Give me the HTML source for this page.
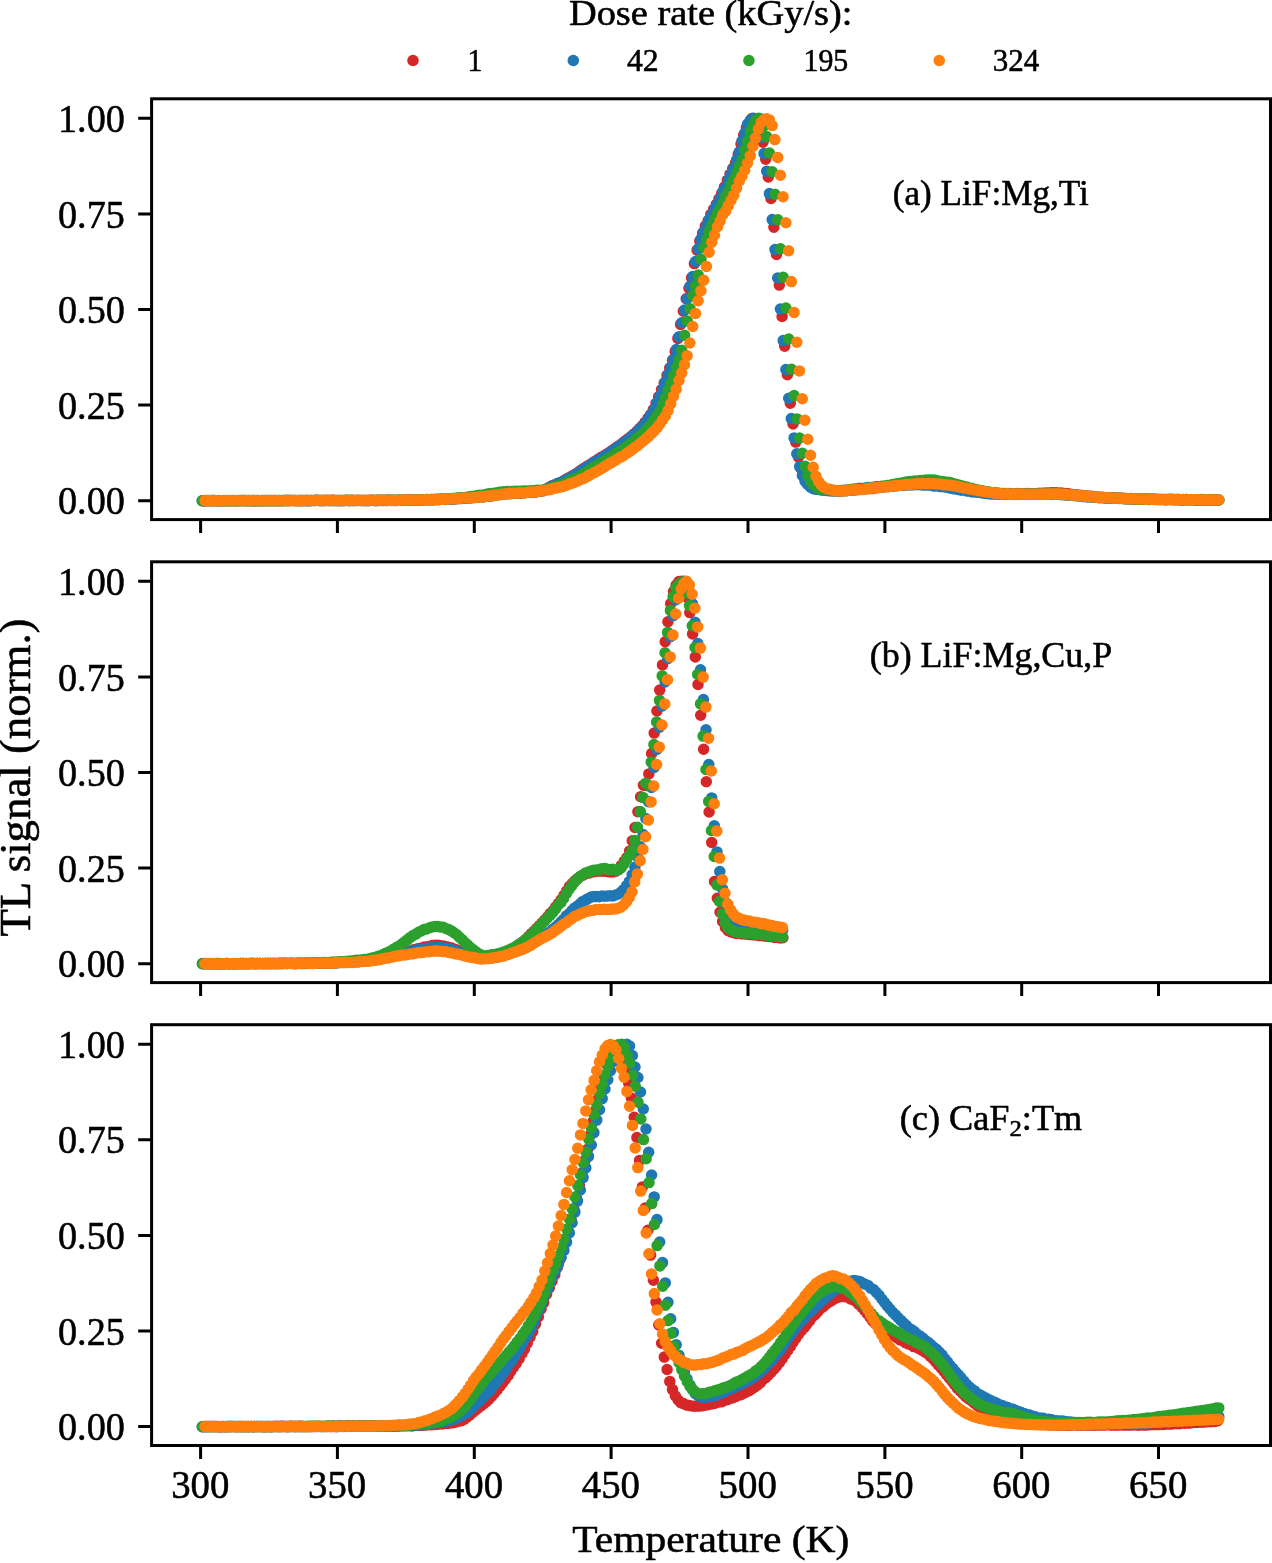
<!DOCTYPE html>
<html lang="en">
<head>
<meta charset="utf-8">
<title>TL glow curves vs dose rate</title>
<style>
html,body{margin:0;padding:0;background:#fff;}
body{width:1272px;height:1563px;overflow:hidden;font-family:"Liberation Serif",serif;}
svg{display:block;}
</style>
</head>
<body>
<svg width="1272" height="1563" viewBox="0 0 1272 1563" role="img" aria-label="Normalised TL glow curves for three dosimeter materials at four dose rates">
<rect width="1272" height="1563" fill="#fff"/>
<g fill="none" stroke-width="11.50" stroke-linecap="round">
<path stroke="#d62728" d="M203.9 500.9h0M206.7 500.7h0M209.4 500.8h0M212.1 500.6h0M214.8 500.4h0M217.6 500.7h0M220.4 500.8h0M223.2 500.8h0M225.8 500.7h0M228.5 500.7h0M231.3 500.8h0M234.1 500.6h0M236.8 500.8h0M239.5 500.5h0M242.3 500.5h0M245.0 500.5h0M247.7 500.7h0M250.5 500.6h0M253.1 500.6h0M255.9 500.7h0M258.6 500.6h0M261.4 500.8h0M264.1 500.8h0M266.9 500.5h0M269.7 500.6h0M272.4 500.6h0M275.0 500.5h0M277.9 500.8h0M280.6 500.7h0M283.4 500.5h0M286.0 500.5h0M288.8 500.6h0M291.5 500.4h0M294.3 500.5h0M297.1 500.7h0M299.8 500.6h0M302.5 500.4h0M305.3 500.5h0M308.0 500.7h0M310.8 500.4h0M313.5 500.4h0M316.3 500.3h0M318.9 500.5h0M321.7 500.5h0M324.5 500.6h0M327.1 500.2h0M330.0 500.5h0M332.7 500.3h0M335.4 500.5h0M338.3 500.4h0M341.0 500.6h0M343.6 500.5h0M346.4 500.3h0M349.2 500.6h0M351.9 500.3h0M354.6 500.4h0M357.3 500.5h0M360.1 500.5h0M362.9 500.5h0M365.5 500.4h0M368.3 500.5h0M371.0 500.5h0M373.8 500.4h0M376.5 500.5h0M379.2 500.5h0M382.0 500.4h0M384.8 500.2h0M387.6 500.5h0M390.2 500.3h0M392.9 500.4h0M395.7 500.4h0M398.3 500.2h0M401.2 500.3h0M403.9 500.0h0M406.7 500.2h0M409.4 500.1h0M412.1 500.1h0M414.9 500.1h0M417.6 499.9h0M420.5 499.9h0M423.1 499.7h0M425.8 499.8h0M428.6 499.8h0M431.3 499.6h0M434.1 499.5h0M436.7 499.3h0M439.5 499.5h0M442.3 499.3h0M445.1 499.4h0M447.8 499.0h0M450.5 499.0h0M453.3 499.0h0M456.0 498.7h0M458.8 498.4h0M461.5 498.5h0M464.2 498.3h0M466.9 498.1h0M469.7 497.9h0M472.3 497.5h0M475.1 497.5h0M477.9 497.2h0M480.6 496.8h0M483.4 496.7h0M486.3 496.2h0M488.8 496.1h0M491.6 495.8h0M494.4 495.5h0M497.1 494.6h0M499.8 494.5h0M502.6 494.0h0M505.3 493.8h0M508.1 493.6h0M510.7 493.4h0M513.5 493.0h0M516.3 493.2h0M518.9 493.2h0M521.8 492.9h0M524.4 492.8h0M527.3 492.3h0M530.0 492.1h0M532.7 492.1h0M535.4 491.9h0M538.2 491.5h0M540.8 490.9h0M543.6 490.8h0M546.4 488.9h0M549.0 487.5h0M551.9 485.8h0M554.5 484.9h0M557.4 483.6h0M560.1 482.6h0M562.9 481.2h0M565.6 479.5h0M568.2 478.1h0M571.1 476.6h0M573.9 474.9h0M576.5 473.4h0M579.3 471.3h0M582.0 469.5h0M584.7 467.7h0M587.6 465.9h0M590.2 464.4h0M593.0 462.6h0M595.7 460.9h0M598.4 459.0h0M601.1 457.2h0M604.0 455.8h0M606.7 454.1h0M609.5 452.2h0M612.2 450.4h0M614.9 448.5h0M617.6 446.5h0M620.4 444.8h0M623.1 442.5h0M625.8 440.6h0M628.6 438.4h0M631.3 436.2h0M634.0 433.9h0M636.9 431.3h0M639.5 428.5h0M642.2 425.7h0M645.1 422.1h0M647.9 418.4h0M650.4 414.8h0M653.3 409.5h0M656.0 403.4h0M658.6 396.7h0M661.5 389.5h0M664.2 383.1h0M667.0 375.2h0M669.7 368.0h0M672.5 360.2h0M675.2 351.4h0M677.9 338.4h0M680.6 324.4h0M683.3 311.2h0M686.2 298.7h0M688.9 288.2h0M691.6 277.9h0M694.4 263.6h0M697.1 250.2h0M699.8 241.0h0M702.6 233.2h0M705.3 226.0h0M708.1 220.9h0M710.8 214.4h0M713.6 209.3h0M716.3 204.2h0M719.0 198.7h0M721.7 193.4h0M724.4 187.1h0M727.3 180.1h0M730.0 174.1h0M732.7 168.5h0M735.5 163.1h0M738.2 154.3h0M741.0 144.1h0M743.7 135.1h0M746.4 127.6h0M749.2 123.1h0M751.8 118.6h0M754.7 118.5h0M757.4 122.5h0M760.2 127.5h0M763.0 142.2h0M765.7 159.2h0M768.3 176.9h0M771.0 198.4h0M773.9 227.2h0M776.5 254.5h0M779.3 285.1h0M782.1 316.4h0M784.7 346.2h0M787.4 374.8h0M790.3 403.2h0M793.0 424.0h0M795.7 442.1h0M798.5 457.2h0M801.2 468.6h0M803.9 476.6h0M806.7 482.4h0M809.4 485.4h0M812.1 487.4h0M814.9 488.8h0M817.7 489.1h0M820.4 489.6h0M823.1 490.0h0M825.8 490.2h0M828.6 490.5h0M831.3 490.8h0M834.1 490.6h0M836.8 490.7h0M839.6 490.7h0M842.3 490.9h0M845.2 490.6h0M847.7 490.5h0M850.6 490.3h0M853.3 490.3h0M856.0 489.8h0M858.7 489.4h0M861.5 489.2h0M864.3 489.1h0M867.0 488.8h0M869.7 488.4h0M872.4 488.6h0M875.3 487.9h0M877.9 487.6h0M880.6 487.3h0M883.4 486.9h0M886.1 486.7h0M888.7 486.5h0M891.6 486.2h0M894.5 485.8h0M897.1 485.7h0M899.8 485.3h0M902.5 484.9h0M905.4 484.5h0M908.1 484.6h0M910.8 484.4h0M913.6 484.2h0M916.3 483.8h0M919.1 483.9h0M921.8 483.5h0M924.5 483.7h0M927.2 483.5h0M930.0 483.5h0M932.7 483.4h0M935.5 483.6h0M938.2 484.1h0M941.0 484.3h0M943.7 484.5h0M946.4 484.9h0M949.3 485.4h0M952.0 485.5h0M954.6 486.0h0M957.4 486.5h0M960.2 487.2h0M962.7 487.5h0M965.6 488.2h0M968.4 488.6h0M971.1 489.4h0M973.8 489.9h0M976.6 490.3h0M979.3 490.9h0M982.1 491.2h0M984.8 491.7h0M987.5 492.2h0M990.4 492.4h0M993.0 492.8h0M995.7 493.0h0M998.4 493.5h0M1001.3 493.7h0M1004.0 493.6h0M1006.8 493.4h0M1009.5 493.5h0M1012.2 493.7h0M1015.0 493.7h0M1017.7 493.5h0M1020.4 493.7h0M1023.2 493.8h0M1026.0 493.6h0M1028.7 493.6h0M1031.4 493.7h0M1034.1 493.8h0M1036.8 493.6h0M1039.7 493.3h0M1042.4 493.3h0M1045.1 493.1h0M1047.8 492.9h0M1050.5 492.8h0M1053.3 492.8h0M1056.1 492.7h0M1058.8 493.0h0M1061.5 493.1h0M1064.2 493.5h0M1067.0 493.5h0M1069.7 494.0h0M1072.5 494.5h0M1075.2 494.7h0M1078.0 495.0h0M1080.7 495.2h0M1083.5 495.8h0M1086.3 496.1h0M1088.9 496.3h0M1091.6 496.3h0M1094.4 496.8h0M1097.1 497.1h0M1099.8 497.2h0M1102.6 497.2h0M1105.5 497.7h0M1108.1 497.8h0M1110.8 497.8h0M1113.5 498.0h0M1116.3 498.2h0M1119.0 498.4h0M1121.7 498.2h0M1124.6 498.4h0M1127.2 498.6h0M1130.1 498.7h0M1132.8 499.1h0M1135.5 498.8h0M1138.3 499.0h0M1141.1 499.0h0M1143.7 499.0h0M1146.4 499.2h0M1149.1 499.4h0M1151.9 499.2h0M1154.8 499.4h0M1157.5 499.4h0M1160.1 499.5h0M1162.8 499.5h0M1165.6 499.7h0M1168.4 499.4h0M1171.1 499.5h0M1173.9 499.4h0M1176.6 499.4h0M1179.3 499.6h0M1182.1 499.9h0M1184.8 499.8h0M1187.6 499.8h0M1190.3 499.8h0M1193.1 499.7h0M1195.8 500.0h0M1198.5 499.8h0M1201.2 500.0h0M1204.0 499.8h0M1206.6 499.9h0M1209.4 499.9h0M1212.3 499.9h0M1215.0 500.0h0M1217.7 500.0h0"/>
<path stroke="#1f77b4" d="M202.2 500.7h0M205.0 500.6h0M207.9 500.6h0M210.6 500.6h0M213.3 500.6h0M216.0 500.7h0M218.7 500.7h0M221.5 500.7h0M224.2 500.6h0M226.9 500.8h0M229.7 500.5h0M232.4 500.6h0M235.1 500.7h0M237.9 500.7h0M240.6 500.7h0M243.3 500.6h0M246.2 500.7h0M248.8 500.5h0M251.6 500.7h0M254.4 500.9h0M257.1 500.7h0M259.7 500.8h0M262.5 500.6h0M265.3 500.5h0M268.0 500.5h0M270.8 500.7h0M273.6 500.7h0M276.2 500.4h0M279.0 500.5h0M281.7 500.6h0M284.5 500.4h0M287.1 500.3h0M289.9 500.4h0M292.7 500.5h0M295.5 500.5h0M298.2 500.5h0M301.0 500.6h0M303.6 500.6h0M306.4 500.5h0M309.1 500.6h0M311.8 500.5h0M314.6 500.5h0M317.3 500.2h0M320.0 500.6h0M322.8 500.5h0M325.5 500.5h0M328.3 500.4h0M331.1 500.4h0M333.8 500.5h0M336.6 500.6h0M339.3 500.6h0M341.9 500.6h0M344.7 500.4h0M347.4 500.4h0M350.2 500.6h0M353.0 500.5h0M355.7 500.4h0M358.3 500.4h0M361.2 500.5h0M363.9 500.4h0M366.7 500.6h0M369.4 500.5h0M372.2 500.2h0M374.9 500.6h0M377.7 500.4h0M380.4 500.3h0M383.1 500.4h0M385.9 500.4h0M388.5 500.3h0M391.3 500.3h0M394.1 500.3h0M396.8 500.5h0M399.5 500.3h0M402.4 500.3h0M405.0 500.2h0M407.7 500.1h0M410.4 500.0h0M413.2 499.9h0M416.0 500.0h0M418.7 499.8h0M421.5 499.7h0M424.2 499.7h0M427.0 499.6h0M429.6 499.7h0M432.4 499.6h0M435.2 499.4h0M438.0 499.6h0M440.6 499.3h0M443.4 499.3h0M446.1 499.2h0M448.9 499.2h0M451.5 499.0h0M454.3 498.7h0M457.1 498.5h0M459.8 498.3h0M462.5 498.3h0M465.3 498.1h0M467.9 498.0h0M470.7 497.7h0M473.5 497.5h0M476.3 497.2h0M479.0 496.8h0M481.6 496.8h0M484.5 496.7h0M487.3 496.3h0M490.0 496.1h0M492.7 495.6h0M495.4 494.9h0M498.2 494.6h0M500.9 494.5h0M503.6 493.9h0M506.4 493.5h0M509.2 493.5h0M511.9 493.4h0M514.7 493.2h0M517.3 493.0h0M520.2 492.8h0M522.8 492.6h0M525.6 492.4h0M528.5 492.2h0M531.1 491.9h0M533.8 491.8h0M536.5 491.8h0M539.3 491.3h0M542.1 490.8h0M544.7 490.1h0M547.4 488.5h0M550.2 487.1h0M553.0 485.9h0M555.7 484.4h0M558.5 483.3h0M561.2 482.3h0M564.0 480.9h0M566.6 479.6h0M569.5 478.1h0M572.3 476.8h0M574.9 474.9h0M577.7 473.2h0M580.4 471.4h0M583.2 469.4h0M585.8 467.6h0M588.6 466.1h0M591.4 464.5h0M594.1 462.3h0M596.8 461.0h0M599.6 459.5h0M602.3 457.6h0M605.0 455.8h0M607.8 454.2h0M610.5 452.2h0M613.3 450.5h0M616.1 448.6h0M618.7 446.6h0M621.5 444.5h0M624.3 442.7h0M626.9 440.6h0M629.7 438.5h0M632.4 435.7h0M635.2 433.9h0M638.0 430.8h0M640.8 428.3h0M643.4 425.5h0M646.2 421.9h0M648.9 418.3h0M651.6 414.0h0M654.4 409.0h0M657.0 403.0h0M659.9 396.0h0M662.6 389.1h0M665.4 381.7h0M668.1 374.3h0M670.8 367.3h0M673.6 359.2h0M676.3 349.6h0M679.0 336.7h0M681.8 322.8h0M684.5 310.1h0M687.1 298.7h0M690.0 286.3h0M692.8 276.4h0M695.5 261.6h0M698.2 248.9h0M701.0 239.1h0M703.7 231.9h0M706.4 225.7h0M709.2 219.6h0M712.0 214.0h0M714.6 209.1h0M717.4 204.1h0M720.1 198.4h0M722.8 191.7h0M725.7 187.0h0M728.3 179.9h0M731.0 174.4h0M733.8 167.5h0M736.6 160.1h0M739.4 151.8h0M742.0 141.1h0M744.8 133.0h0M747.6 124.0h0M750.2 120.6h0M753.0 118.3h0M755.7 119.7h0M758.5 126.9h0M761.2 137.5h0M764.0 153.5h0M766.7 171.3h0M769.4 193.6h0M772.2 219.6h0M775.0 249.5h0M777.7 278.0h0M780.4 309.0h0M783.2 340.6h0M785.9 369.5h0M788.7 398.3h0M791.3 418.6h0M794.1 437.9h0M796.8 453.8h0M799.7 466.6h0M802.4 475.4h0M805.0 481.2h0M807.7 484.5h0M810.6 487.2h0M813.3 488.7h0M816.1 489.2h0M818.8 489.5h0M821.5 489.9h0M824.3 490.2h0M827.0 490.6h0M829.8 490.8h0M832.3 490.7h0M835.2 490.9h0M837.9 490.9h0M840.7 490.7h0M843.4 490.3h0M846.1 490.2h0M848.9 489.8h0M851.6 489.6h0M854.3 489.1h0M857.0 488.8h0M859.9 488.3h0M862.6 488.4h0M865.4 488.1h0M868.1 487.6h0M870.9 487.5h0M873.6 487.2h0M876.3 486.7h0M879.1 486.8h0M881.8 486.6h0M884.5 486.4h0M887.2 486.0h0M890.0 485.8h0M892.7 485.8h0M895.4 485.6h0M898.3 485.3h0M900.9 485.1h0M903.7 485.2h0M906.4 484.9h0M909.2 484.8h0M911.9 485.0h0M914.6 484.8h0M917.5 484.6h0M920.2 484.8h0M923.0 485.1h0M925.7 485.1h0M928.3 485.1h0M931.1 485.3h0M933.9 486.1h0M936.6 485.7h0M939.3 486.5h0M942.0 486.6h0M944.7 487.0h0M947.5 487.5h0M950.2 488.1h0M953.0 488.8h0M955.7 489.0h0M958.5 489.6h0M961.2 490.3h0M964.0 490.1h0M966.6 490.9h0M969.4 491.2h0M972.1 491.9h0M974.8 492.0h0M977.6 492.3h0M980.5 492.6h0M983.1 493.1h0M985.9 493.6h0M988.6 493.7h0M991.4 494.1h0M994.1 494.1h0M996.9 493.9h0M999.6 494.1h0M1002.4 494.1h0M1005.1 494.1h0M1007.8 493.9h0M1010.5 494.0h0M1013.3 494.2h0M1016.0 494.0h0M1018.8 494.3h0M1021.5 494.2h0M1024.4 494.0h0M1026.9 494.3h0M1029.7 494.1h0M1032.5 494.2h0M1035.2 493.9h0M1037.9 493.7h0M1040.7 494.0h0M1043.4 493.8h0M1046.2 493.9h0M1049.0 494.0h0M1051.7 494.1h0M1054.3 493.9h0M1057.1 494.0h0M1059.9 494.4h0M1062.7 494.8h0M1065.3 494.9h0M1068.1 495.2h0M1070.9 495.3h0M1073.6 495.6h0M1076.3 495.8h0M1079.0 496.0h0M1081.7 496.4h0M1084.5 496.6h0M1087.2 497.0h0M1090.1 497.0h0M1092.7 497.3h0M1095.5 497.3h0M1098.3 497.6h0M1101.0 497.6h0M1103.7 497.7h0M1106.5 498.1h0M1109.3 498.1h0M1111.9 498.2h0M1114.6 498.1h0M1117.4 498.1h0M1120.1 498.3h0M1123.0 498.6h0M1125.5 498.5h0M1128.3 498.9h0M1131.1 498.6h0M1133.8 498.9h0M1136.6 499.2h0M1139.3 498.7h0M1142.1 498.9h0M1144.9 499.2h0M1147.4 499.1h0M1150.3 499.2h0M1153.0 499.3h0M1155.8 499.5h0M1158.5 499.4h0M1161.2 499.4h0M1164.0 499.4h0M1166.8 499.4h0M1169.5 499.5h0M1172.2 499.3h0M1175.1 499.7h0M1177.8 499.6h0M1180.4 499.9h0M1183.2 499.8h0M1186.1 499.5h0M1188.7 499.8h0M1191.4 499.7h0M1194.1 499.8h0M1196.8 499.9h0M1199.6 499.9h0M1202.3 499.9h0M1205.1 499.9h0M1207.8 499.8h0M1210.5 499.8h0M1213.2 500.0h0M1216.1 500.0h0M1218.7 499.9h0"/>
<path stroke="#2ca02c" d="M202.3 500.7h0M205.1 500.7h0M208.0 500.6h0M210.6 500.7h0M213.3 500.5h0M216.0 500.7h0M218.7 500.6h0M221.5 500.7h0M224.2 500.7h0M227.0 500.4h0M229.7 500.7h0M232.5 500.8h0M235.2 500.7h0M238.0 500.7h0M240.6 500.4h0M243.5 500.6h0M246.2 500.5h0M249.0 500.7h0M251.7 500.6h0M254.5 500.5h0M257.1 500.4h0M259.9 500.7h0M262.8 500.5h0M265.3 500.6h0M268.2 500.7h0M270.9 500.6h0M273.6 500.6h0M276.4 500.8h0M279.1 500.5h0M281.8 500.5h0M284.6 500.6h0M287.2 500.7h0M290.0 500.4h0M292.7 500.5h0M295.5 500.4h0M298.3 500.4h0M301.0 500.6h0M303.7 500.4h0M306.6 500.5h0M309.3 500.5h0M312.0 500.5h0M314.7 500.5h0M317.4 500.4h0M320.2 500.5h0M322.9 500.5h0M325.6 500.5h0M328.4 500.4h0M331.3 500.6h0M333.8 500.5h0M336.7 500.5h0M339.4 500.5h0M342.1 500.5h0M344.9 500.5h0M347.5 500.2h0M350.3 500.3h0M353.1 500.4h0M355.8 500.4h0M358.5 500.2h0M361.3 500.4h0M364.0 500.4h0M366.8 500.4h0M369.4 500.4h0M372.3 500.2h0M374.9 500.4h0M377.7 500.1h0M380.4 500.5h0M383.0 500.3h0M385.9 500.5h0M388.6 500.1h0M391.4 500.4h0M394.2 500.3h0M396.8 500.2h0M399.6 500.1h0M402.4 500.4h0M405.1 500.2h0M407.9 500.3h0M410.6 500.1h0M413.3 500.0h0M416.1 500.0h0M418.9 500.0h0M421.6 499.9h0M424.3 499.8h0M427.0 499.6h0M429.8 499.4h0M432.5 499.7h0M435.4 499.4h0M438.0 499.4h0M440.7 499.1h0M443.4 499.2h0M446.2 498.9h0M449.0 498.8h0M451.7 498.4h0M454.4 498.3h0M457.2 498.1h0M459.8 497.8h0M462.6 497.7h0M465.4 497.5h0M468.1 496.9h0M470.9 496.6h0M473.7 496.3h0M476.4 495.7h0M479.1 495.3h0M481.9 495.2h0M484.6 494.7h0M487.3 494.0h0M490.1 493.6h0M492.8 493.4h0M495.5 493.0h0M498.3 492.4h0M501.0 492.0h0M503.6 491.8h0M506.5 491.5h0M509.2 491.6h0M511.9 491.5h0M514.6 491.2h0M517.4 491.3h0M520.2 491.2h0M522.9 491.0h0M525.6 490.9h0M528.4 491.0h0M531.1 490.8h0M533.9 490.8h0M536.7 490.3h0M539.3 490.3h0M542.1 490.3h0M544.9 489.8h0M547.6 489.1h0M550.3 488.3h0M553.1 487.3h0M555.9 486.4h0M558.4 485.8h0M561.2 484.7h0M564.0 483.8h0M566.7 482.5h0M569.5 481.3h0M572.2 479.6h0M575.0 478.6h0M577.7 477.5h0M580.5 475.7h0M583.2 473.9h0M585.9 472.5h0M588.7 470.7h0M591.5 468.9h0M594.2 467.1h0M596.9 465.6h0M599.6 464.0h0M602.3 462.2h0M605.1 460.7h0M607.9 459.0h0M610.6 457.6h0M613.3 455.7h0M616.1 453.6h0M618.8 452.2h0M621.6 450.0h0M624.2 448.0h0M627.0 446.2h0M629.8 444.1h0M632.6 442.2h0M635.2 439.7h0M638.0 437.4h0M640.7 435.2h0M643.5 433.0h0M646.3 430.0h0M649.0 426.7h0M651.8 423.1h0M654.5 419.9h0M657.3 415.4h0M659.9 411.1h0M662.7 404.5h0M665.3 397.7h0M668.1 390.3h0M670.9 383.4h0M673.6 375.1h0M676.2 367.6h0M679.2 359.7h0M681.8 350.2h0M684.6 335.2h0M687.3 321.0h0M690.1 308.8h0M692.8 295.8h0M695.5 286.0h0M698.2 275.1h0M701.0 259.2h0M703.8 247.7h0M706.5 239.3h0M709.2 231.4h0M711.9 225.3h0M714.7 219.1h0M717.5 213.1h0M720.1 208.8h0M723.0 203.3h0M725.7 196.6h0M728.4 191.2h0M731.2 184.9h0M733.8 179.1h0M736.5 172.9h0M739.3 166.1h0M742.1 160.0h0M744.8 150.1h0M747.6 141.4h0M750.3 131.8h0M753.0 125.6h0M755.8 120.2h0M758.5 118.3h0M761.3 118.9h0M764.0 125.6h0M766.7 136.6h0M769.4 153.0h0M772.2 171.8h0M775.0 194.2h0M777.8 219.7h0M780.5 248.8h0M783.2 277.2h0M785.9 308.1h0M788.7 339.0h0M791.5 369.2h0M794.1 395.6h0M797.0 418.9h0M799.6 438.0h0M802.4 453.3h0M805.2 466.2h0M807.9 475.3h0M810.6 481.4h0M813.4 484.6h0M816.1 486.8h0M818.9 488.8h0M821.6 489.3h0M824.3 489.5h0M827.1 490.0h0M829.8 490.0h0M832.5 490.6h0M835.2 490.6h0M838.0 490.9h0M840.8 490.4h0M843.4 490.7h0M846.3 490.8h0M849.0 490.3h0M851.7 490.0h0M854.3 489.5h0M857.2 489.5h0M860.0 489.2h0M862.6 488.9h0M865.4 488.4h0M868.0 488.3h0M870.9 487.8h0M873.6 487.5h0M876.4 487.2h0M879.0 486.8h0M881.9 486.3h0M884.6 486.1h0M887.4 485.4h0M890.0 485.3h0M892.8 484.4h0M895.7 483.9h0M898.3 483.6h0M901.0 483.2h0M903.8 482.6h0M906.5 482.1h0M909.3 481.6h0M912.1 481.4h0M914.7 481.0h0M917.4 480.9h0M920.3 480.5h0M923.0 480.6h0M925.7 480.1h0M928.5 480.0h0M931.1 480.1h0M933.9 480.1h0M936.6 480.4h0M939.3 481.3h0M942.2 481.4h0M944.8 482.1h0M947.7 482.3h0M950.4 482.6h0M953.1 483.6h0M955.9 484.3h0M958.7 485.1h0M961.3 485.8h0M964.0 486.5h0M966.8 487.1h0M969.6 488.1h0M972.3 488.4h0M975.0 489.4h0M977.8 489.9h0M980.5 490.4h0M983.2 491.0h0M986.0 491.7h0M988.7 492.1h0M991.5 492.5h0M994.2 492.8h0M997.0 493.0h0M999.7 493.6h0M1002.3 493.6h0M1005.2 493.7h0M1007.9 493.8h0M1010.7 493.9h0M1013.4 493.8h0M1016.1 494.0h0M1018.8 494.0h0M1021.6 494.1h0M1024.3 493.9h0M1027.0 494.4h0M1029.9 494.0h0M1032.5 494.2h0M1035.3 494.2h0M1038.0 494.2h0M1040.7 494.3h0M1043.5 494.0h0M1046.2 494.0h0M1049.0 493.8h0M1051.6 494.0h0M1054.5 493.6h0M1057.2 493.8h0M1059.9 494.0h0M1062.7 494.2h0M1065.4 494.4h0M1068.1 494.7h0M1071.0 494.9h0M1073.6 495.1h0M1076.4 495.4h0M1079.1 495.7h0M1082.0 495.9h0M1084.6 496.2h0M1087.4 496.3h0M1090.1 496.4h0M1092.9 496.8h0M1095.5 497.1h0M1098.3 497.5h0M1101.2 497.6h0M1103.8 497.8h0M1106.5 497.7h0M1109.4 498.0h0M1112.0 498.0h0M1114.7 498.2h0M1117.5 498.3h0M1120.2 498.2h0M1123.0 498.6h0M1125.8 498.7h0M1128.4 498.8h0M1131.2 498.7h0M1133.9 499.0h0M1136.7 499.1h0M1139.4 499.2h0M1142.2 499.2h0M1144.8 499.1h0M1147.6 498.9h0M1150.4 499.3h0M1153.1 499.2h0M1155.9 499.3h0M1158.5 499.5h0M1161.4 499.4h0M1164.1 499.5h0M1166.8 499.6h0M1169.5 499.3h0M1172.2 499.8h0M1175.1 499.5h0M1177.7 499.6h0M1180.5 499.7h0M1183.3 499.6h0M1186.1 499.6h0M1188.8 499.7h0M1191.5 499.7h0M1194.2 499.7h0M1197.0 500.0h0M1199.7 499.6h0M1202.5 499.6h0M1205.2 499.7h0M1208.0 499.8h0M1210.7 500.0h0M1213.4 499.9h0M1216.2 500.0h0M1218.9 500.0h0"/>
<path stroke="#ff7f0e" d="M205.0 500.6h0M207.7 500.8h0M210.5 500.7h0M213.1 500.7h0M215.9 500.6h0M218.7 500.7h0M221.4 500.8h0M224.1 500.5h0M227.0 500.5h0M229.6 500.6h0M232.3 500.7h0M235.1 500.6h0M237.9 500.6h0M240.7 500.5h0M243.4 500.8h0M246.0 500.6h0M248.8 500.6h0M251.6 500.7h0M254.2 500.6h0M257.1 500.6h0M259.9 500.7h0M262.5 500.6h0M265.3 500.8h0M268.0 500.6h0M270.8 500.5h0M273.4 500.5h0M276.3 500.5h0M278.9 500.7h0M281.7 500.7h0M284.4 500.5h0M287.2 500.5h0M289.9 500.3h0M292.6 500.5h0M295.3 500.6h0M298.2 500.4h0M301.0 500.6h0M303.7 500.7h0M306.4 500.2h0M309.1 500.5h0M311.8 500.4h0M314.6 500.4h0M317.3 500.3h0M320.0 500.5h0M322.8 500.3h0M325.5 500.6h0M328.2 500.6h0M331.0 500.3h0M333.7 500.3h0M336.6 500.4h0M339.2 500.4h0M342.0 500.4h0M344.7 500.5h0M347.4 500.3h0M350.2 500.4h0M352.9 500.4h0M355.7 500.4h0M358.5 500.3h0M361.2 500.4h0M363.8 500.3h0M366.6 500.5h0M369.4 500.3h0M372.1 500.1h0M374.8 500.4h0M377.6 500.4h0M380.4 500.3h0M383.1 500.2h0M385.8 500.3h0M388.6 500.5h0M391.4 500.3h0M394.0 500.4h0M396.8 500.4h0M399.5 500.2h0M402.3 500.3h0M405.0 500.1h0M407.7 499.8h0M410.5 500.0h0M413.2 500.0h0M416.0 500.1h0M418.7 500.0h0M421.4 500.0h0M424.1 499.8h0M426.7 499.8h0M429.7 499.7h0M432.3 499.6h0M435.1 499.6h0M437.9 499.6h0M440.6 499.5h0M443.3 499.2h0M446.1 499.1h0M448.8 498.9h0M451.5 498.8h0M454.3 498.8h0M457.0 498.5h0M459.9 498.6h0M462.5 498.0h0M465.3 498.0h0M468.0 498.0h0M470.8 497.9h0M473.5 497.5h0M476.3 497.5h0M479.0 497.1h0M481.7 496.7h0M484.4 496.5h0M487.2 496.3h0M490.0 495.8h0M492.7 495.6h0M495.4 495.1h0M498.2 494.7h0M501.0 494.4h0M503.7 493.9h0M506.4 493.8h0M509.2 493.3h0M511.9 493.4h0M514.6 493.0h0M517.3 493.2h0M520.0 492.8h0M522.7 492.9h0M525.6 492.7h0M528.3 492.3h0M531.0 492.0h0M533.7 491.9h0M536.4 491.4h0M539.2 491.3h0M541.9 490.8h0M544.8 490.4h0M547.5 489.9h0M550.4 489.6h0M553.0 488.6h0M555.7 488.1h0M558.4 487.5h0M561.0 486.9h0M563.9 486.2h0M566.6 485.3h0M569.4 484.1h0M572.2 483.2h0M574.9 482.3h0M577.6 481.1h0M580.4 479.6h0M583.2 478.6h0M585.8 477.4h0M588.5 475.6h0M591.2 474.3h0M594.1 472.7h0M596.9 471.2h0M599.6 469.8h0M602.2 468.2h0M605.0 466.4h0M607.7 464.8h0M610.5 463.1h0M613.2 461.5h0M616.0 460.0h0M618.7 458.3h0M621.5 456.8h0M624.2 455.3h0M626.9 453.2h0M629.7 451.4h0M632.4 449.4h0M635.2 447.3h0M637.9 445.5h0M640.6 443.3h0M643.4 441.0h0M646.0 438.6h0M648.9 436.2h0M651.5 433.4h0M654.4 430.6h0M657.1 427.7h0M659.7 424.3h0M662.5 420.0h0M665.3 416.2h0M668.0 410.8h0M670.7 403.9h0M673.6 396.1h0M676.2 389.3h0M679.0 380.5h0M681.7 372.9h0M684.5 364.8h0M687.2 355.8h0M689.9 343.0h0M692.7 326.5h0M695.4 313.4h0M698.1 300.8h0M700.9 290.8h0M703.7 280.2h0M706.4 266.4h0M709.1 252.2h0M711.8 242.3h0M714.6 235.0h0M717.5 226.8h0M720.1 221.1h0M722.8 214.8h0M725.6 211.2h0M728.2 205.7h0M731.1 200.2h0M733.8 195.1h0M736.6 188.3h0M739.3 181.3h0M742.0 176.0h0M744.7 170.2h0M747.5 163.1h0M750.2 155.9h0M753.0 146.3h0M755.6 138.1h0M758.4 129.0h0M761.2 122.4h0M764.0 119.7h0M766.7 118.8h0M769.4 119.9h0M772.2 125.6h0M774.9 139.6h0M777.7 157.4h0M780.4 175.2h0M783.1 196.8h0M785.9 222.8h0M788.6 250.8h0M791.3 281.6h0M794.1 312.4h0M796.8 342.2h0M799.4 370.9h0M802.3 398.8h0M804.9 420.3h0M807.8 439.3h0M810.5 455.2h0M813.2 467.2h0M816.0 476.2h0M818.8 481.8h0M821.5 485.3h0M824.3 487.4h0M827.1 488.8h0M829.6 489.3h0M832.5 490.1h0M835.2 490.6h0M837.9 490.9h0M840.7 490.9h0M843.3 490.7h0M846.1 490.6h0M848.8 490.2h0M851.6 490.2h0M854.3 489.7h0M857.0 489.6h0M859.8 489.4h0M862.6 489.4h0M865.3 489.1h0M868.1 488.6h0M870.7 488.2h0M873.5 488.1h0M876.2 487.7h0M879.0 487.6h0M881.7 487.3h0M884.5 487.1h0M887.2 486.6h0M890.0 486.4h0M892.7 486.1h0M895.5 485.8h0M898.2 485.4h0M901.0 485.2h0M903.7 485.0h0M906.4 484.4h0M909.2 484.4h0M911.9 484.3h0M914.7 483.9h0M917.4 483.8h0M920.1 483.8h0M922.9 483.6h0M925.6 483.7h0M928.4 483.6h0M931.1 483.8h0M933.7 483.4h0M936.6 484.0h0M939.3 483.9h0M942.0 484.4h0M944.8 484.8h0M947.5 485.0h0M950.4 485.3h0M953.0 485.7h0M955.6 486.0h0M958.5 486.8h0M961.2 487.2h0M964.1 488.0h0M966.6 488.3h0M969.3 488.9h0M972.2 489.5h0M974.9 490.0h0M977.6 490.5h0M980.3 491.0h0M983.2 491.4h0M986.0 491.9h0M988.5 492.3h0M991.4 492.5h0M994.1 493.1h0M997.0 493.3h0M999.6 493.3h0M1002.3 494.0h0M1005.1 493.9h0M1007.8 493.8h0M1010.5 494.2h0M1013.3 493.7h0M1016.0 494.4h0M1018.6 493.9h0M1021.6 494.0h0M1024.2 494.1h0M1026.9 494.2h0M1029.7 494.2h0M1032.4 494.3h0M1035.1 494.1h0M1037.9 494.2h0M1040.6 494.1h0M1043.4 493.9h0M1046.2 494.1h0M1048.9 493.9h0M1051.7 493.8h0M1054.4 494.0h0M1057.0 493.7h0M1059.9 493.9h0M1062.5 494.3h0M1065.4 494.3h0M1068.1 494.7h0M1070.8 494.9h0M1073.5 495.1h0M1076.3 495.4h0M1079.0 495.4h0M1081.8 495.9h0M1084.5 496.0h0M1087.2 496.3h0M1090.0 496.5h0M1092.8 496.9h0M1095.4 497.1h0M1098.3 497.4h0M1100.9 497.4h0M1103.7 497.5h0M1106.4 497.5h0M1109.1 497.7h0M1111.9 498.0h0M1114.6 498.2h0M1117.5 498.3h0M1120.2 498.4h0M1122.9 498.3h0M1125.7 498.5h0M1128.3 498.8h0M1131.1 498.9h0M1133.9 498.7h0M1136.6 498.9h0M1139.4 499.0h0M1142.1 498.9h0M1144.7 499.2h0M1147.6 499.2h0M1150.2 499.3h0M1153.0 499.5h0M1155.6 499.2h0M1158.5 499.5h0M1161.3 499.5h0M1164.0 499.5h0M1166.8 499.4h0M1169.5 499.5h0M1172.2 499.6h0M1175.0 499.8h0M1177.6 499.6h0M1180.4 499.8h0M1183.2 499.6h0M1185.9 499.6h0M1188.6 499.7h0M1191.4 499.5h0M1194.1 499.7h0M1196.8 499.7h0M1199.6 499.8h0M1202.3 499.9h0M1205.0 499.7h0M1207.7 499.7h0M1210.6 500.0h0M1213.2 499.8h0M1216.0 499.9h0M1218.8 499.8h0"/>
</g>
<g fill="none" stroke-width="11.50" stroke-linecap="round">
<path stroke="#d62728" d="M202.7 963.5h0M205.3 963.6h0M208.1 963.6h0M211.0 963.7h0M213.6 963.7h0M216.3 963.6h0M219.1 963.6h0M221.8 963.8h0M224.4 963.6h0M227.2 963.4h0M229.9 963.7h0M232.8 963.7h0M235.5 963.7h0M238.2 963.8h0M241.0 963.5h0M243.7 963.6h0M246.3 963.6h0M249.2 963.4h0M251.9 963.3h0M254.6 963.7h0M257.4 963.5h0M260.1 963.5h0M262.9 963.5h0M265.5 963.5h0M268.3 963.6h0M271.2 963.4h0M273.8 963.5h0M276.5 963.5h0M279.3 963.4h0M282.1 963.4h0M284.8 963.4h0M287.4 963.4h0M290.3 963.3h0M292.9 963.4h0M295.6 963.4h0M298.4 963.5h0M301.2 963.4h0M304.0 963.5h0M306.7 963.3h0M309.4 963.2h0M312.2 963.5h0M314.9 963.2h0M317.7 963.1h0M320.3 963.1h0M323.0 963.1h0M325.9 962.8h0M328.5 963.0h0M331.3 962.9h0M334.0 962.8h0M336.7 962.6h0M339.5 962.3h0M342.3 962.2h0M344.8 962.1h0M347.8 962.1h0M350.6 961.9h0M353.2 961.7h0M355.9 961.4h0M358.7 961.4h0M361.5 960.9h0M364.1 960.6h0M366.9 960.4h0M369.6 960.0h0M372.4 959.8h0M375.1 959.3h0M377.9 958.7h0M380.5 957.9h0M383.3 957.3h0M386.0 956.8h0M388.7 955.9h0M391.5 955.4h0M394.2 954.5h0M396.9 954.0h0M399.8 953.4h0M402.4 952.6h0M405.1 952.2h0M408.0 951.4h0M410.6 950.8h0M413.4 949.8h0M416.1 949.2h0M418.9 948.6h0M421.6 948.0h0M424.3 947.1h0M427.1 946.8h0M429.9 946.2h0M432.4 945.5h0M435.3 945.2h0M438.1 945.3h0M440.7 945.8h0M443.4 946.1h0M446.4 946.7h0M449.0 947.5h0M451.8 948.0h0M454.5 949.2h0M457.2 949.9h0M460.0 951.2h0M462.7 952.1h0M465.5 953.4h0M468.2 954.2h0M470.9 955.2h0M473.6 956.1h0M476.4 956.9h0M479.1 957.4h0M481.8 957.7h0M484.5 957.4h0M487.3 957.0h0M490.0 956.7h0M492.8 956.3h0M495.5 955.6h0M498.2 954.9h0M501.0 953.7h0M503.8 952.8h0M506.5 951.7h0M509.3 950.5h0M511.9 949.4h0M514.8 947.5h0M517.5 945.8h0M520.2 943.7h0M522.9 941.8h0M525.5 939.7h0M528.3 936.8h0M531.1 933.7h0M533.9 931.2h0M536.5 928.6h0M539.4 925.6h0M542.0 922.9h0M544.8 919.9h0M547.4 917.0h0M550.3 913.4h0M553.0 910.8h0M555.8 906.9h0M558.5 903.4h0M561.1 899.7h0M564.0 895.2h0M566.7 890.9h0M569.4 886.6h0M572.2 883.6h0M574.9 880.8h0M577.6 878.5h0M580.3 876.5h0M583.0 875.1h0M585.9 873.7h0M588.6 873.1h0M591.3 872.3h0M594.0 871.7h0M596.8 871.3h0M599.5 871.0h0M602.2 871.2h0M605.0 871.3h0M607.8 871.8h0M610.5 872.0h0M613.2 871.9h0M615.9 871.2h0M618.6 869.8h0M621.5 865.0h0M624.2 861.3h0M626.9 857.5h0M629.6 851.0h0M632.3 840.8h0M635.0 827.5h0M637.9 811.7h0M640.6 796.7h0M643.4 785.2h0M646.0 785.5h0M648.8 773.9h0M651.6 753.5h0M654.2 733.1h0M656.9 711.0h0M659.7 690.1h0M662.5 664.9h0M665.2 641.8h0M667.9 621.7h0M670.7 603.5h0M673.5 591.5h0M676.2 585.1h0M678.9 581.6h0M681.6 581.3h0M684.4 586.0h0M687.2 597.2h0M689.8 612.6h0M692.6 633.9h0M695.3 656.9h0M698.0 684.5h0M700.7 715.2h0M703.6 749.2h0M706.3 781.7h0M709.1 812.0h0M711.7 842.5h0M714.5 881.5h0M717.3 898.3h0M720.0 912.3h0M722.6 921.5h0M725.4 927.4h0M728.2 930.7h0M730.8 932.0h0M733.7 932.8h0M736.4 933.4h0M739.1 933.5h0M741.9 934.0h0M744.6 934.0h0M747.3 934.3h0M750.0 934.4h0M752.8 934.8h0M755.5 934.9h0M758.3 935.5h0M761.1 935.6h0M763.8 936.0h0M766.5 936.2h0M769.2 936.5h0M771.9 936.7h0M774.7 937.4h0M777.4 937.4h0M780.2 937.9h0M782.9 937.8h0"/>
<path stroke="#1f77b4" d="M202.4 963.7h0M205.1 963.8h0M207.8 963.8h0M210.8 963.8h0M213.3 963.6h0M216.2 964.0h0M218.9 963.7h0M221.5 963.9h0M224.3 963.7h0M227.1 963.6h0M229.8 963.7h0M232.6 963.6h0M235.3 963.8h0M238.0 963.4h0M240.8 963.5h0M243.5 963.5h0M246.4 963.8h0M249.0 963.8h0M251.7 963.5h0M254.4 963.6h0M257.2 963.6h0M260.0 963.6h0M262.6 963.7h0M265.4 963.5h0M268.1 963.6h0M270.9 963.5h0M273.7 963.6h0M276.2 963.5h0M279.1 963.6h0M281.9 963.4h0M284.5 963.4h0M287.3 963.4h0M290.1 963.4h0M292.9 963.4h0M295.5 963.8h0M298.2 963.3h0M301.0 963.4h0M303.8 963.4h0M306.4 963.4h0M309.1 963.5h0M312.0 963.3h0M314.7 963.2h0M317.5 963.1h0M320.1 963.3h0M322.9 963.2h0M325.6 962.9h0M328.4 963.1h0M331.2 962.7h0M333.7 962.9h0M336.5 962.9h0M339.4 962.5h0M342.0 962.3h0M344.7 962.6h0M347.5 962.1h0M350.3 962.1h0M353.0 961.7h0M355.7 961.8h0M358.5 961.7h0M361.2 961.3h0M364.0 961.0h0M366.6 960.6h0M369.4 960.3h0M372.1 960.0h0M375.0 959.7h0M377.6 959.2h0M380.4 958.6h0M383.1 958.1h0M385.9 957.4h0M388.6 957.0h0M391.3 956.1h0M394.1 955.4h0M396.9 954.5h0M399.5 954.1h0M402.2 953.7h0M405.0 952.8h0M407.8 952.4h0M410.5 951.6h0M413.1 951.1h0M415.8 950.1h0M418.7 949.6h0M421.5 949.4h0M424.2 948.8h0M426.8 948.2h0M429.7 947.8h0M432.3 947.5h0M435.1 947.4h0M437.9 947.3h0M440.5 947.4h0M443.3 947.7h0M445.9 948.5h0M448.7 949.2h0M451.4 949.5h0M454.3 950.6h0M457.0 951.2h0M459.8 952.4h0M462.5 953.4h0M465.2 954.3h0M468.0 955.3h0M470.7 956.1h0M473.5 957.1h0M476.2 957.8h0M478.8 958.1h0M481.6 958.3h0M484.4 958.3h0M487.1 958.1h0M489.9 958.0h0M492.7 957.7h0M495.3 957.2h0M498.0 956.9h0M500.7 956.3h0M503.5 955.6h0M506.2 954.4h0M508.9 953.8h0M511.8 952.7h0M514.5 952.0h0M517.2 950.7h0M519.9 949.9h0M522.6 948.6h0M525.5 947.6h0M528.1 946.1h0M530.9 944.2h0M533.7 942.7h0M536.4 940.8h0M539.1 939.1h0M541.8 937.6h0M544.5 935.5h0M547.3 933.6h0M550.1 931.8h0M552.7 929.3h0M555.6 927.0h0M558.3 924.5h0M561.1 921.7h0M563.7 919.3h0M566.4 915.9h0M569.1 913.8h0M572.0 910.5h0M574.7 907.9h0M577.5 906.1h0M580.1 903.8h0M582.8 901.4h0M585.6 900.1h0M588.4 898.4h0M591.1 897.1h0M593.9 896.6h0M596.6 896.5h0M599.3 896.8h0M602.0 896.1h0M604.7 896.2h0M607.5 895.9h0M610.3 895.8h0M613.0 896.0h0M615.7 894.9h0M618.4 894.0h0M621.3 891.9h0M624.0 889.1h0M626.7 885.5h0M629.4 881.3h0M632.1 874.9h0M634.9 867.2h0M637.6 856.9h0M640.3 846.7h0M643.1 834.5h0M645.9 818.5h0M648.6 801.8h0M651.4 787.4h0M654.1 767.5h0M656.8 749.5h0M659.5 727.3h0M662.2 705.9h0M665.1 681.9h0M667.8 658.6h0M670.5 636.6h0M673.3 615.6h0M676.0 599.7h0M678.7 590.2h0M681.4 584.5h0M684.2 581.3h0M686.9 583.9h0M689.7 591.8h0M692.4 603.7h0M695.1 622.3h0M697.8 643.6h0M700.5 669.8h0M703.4 699.6h0M706.0 729.8h0M708.8 764.5h0M711.7 797.9h0M714.3 825.7h0M717.0 851.9h0M719.8 871.6h0M722.6 889.0h0M725.2 902.2h0M728.0 910.6h0M730.7 914.9h0M733.4 918.7h0M736.3 920.9h0M738.9 921.9h0M741.6 922.5h0M744.4 923.1h0M747.1 924.0h0M749.9 924.0h0M752.6 924.8h0M755.3 925.3h0M758.0 925.5h0M760.8 926.2h0M763.5 926.9h0M766.3 927.6h0M768.9 927.8h0M771.7 928.2h0M774.5 928.7h0M777.2 929.3h0M779.9 929.7h0M782.7 930.1h0"/>
<path stroke="#2ca02c" d="M202.4 963.7h0M205.1 963.7h0M207.9 963.7h0M210.5 963.8h0M213.3 963.8h0M216.1 963.6h0M218.7 963.6h0M221.5 963.7h0M224.4 963.7h0M227.0 963.4h0M229.8 963.7h0M232.4 963.7h0M235.2 963.6h0M237.8 963.7h0M240.7 963.6h0M243.5 963.4h0M246.3 963.5h0M248.9 963.5h0M251.7 963.5h0M254.4 963.5h0M257.1 963.4h0M259.8 963.5h0M262.6 963.5h0M265.3 963.4h0M268.1 963.3h0M270.7 963.4h0M273.4 963.3h0M276.2 963.6h0M278.9 963.2h0M281.6 963.1h0M284.5 963.1h0M287.2 963.3h0M289.9 963.3h0M292.7 963.2h0M295.5 963.3h0M298.1 963.1h0M301.0 963.1h0M303.6 962.9h0M306.4 962.8h0M309.1 963.2h0M311.8 962.8h0M314.5 962.9h0M317.3 962.9h0M320.1 962.7h0M322.8 962.6h0M325.5 962.4h0M328.3 962.6h0M331.1 962.2h0M333.8 961.9h0M336.5 961.9h0M339.2 961.8h0M341.9 961.7h0M344.7 961.6h0M347.4 961.2h0M350.1 961.0h0M353.0 960.7h0M355.6 960.3h0M358.3 960.2h0M361.1 959.9h0M363.9 959.4h0M366.6 959.4h0M369.4 958.8h0M372.0 958.1h0M374.8 957.4h0M377.5 956.4h0M380.2 955.7h0M383.1 954.4h0M385.7 953.3h0M388.6 952.0h0M391.1 950.7h0M393.9 948.9h0M396.7 947.2h0M399.5 945.7h0M402.2 943.8h0M404.8 941.7h0M407.6 939.6h0M410.3 937.4h0M413.2 935.4h0M415.8 934.1h0M418.6 932.3h0M421.2 931.0h0M424.0 929.5h0M426.7 928.9h0M429.6 927.7h0M432.2 927.0h0M435.0 926.4h0M437.7 926.5h0M440.4 927.0h0M443.3 927.2h0M445.9 928.5h0M448.6 929.4h0M451.4 930.9h0M454.1 932.7h0M456.9 934.8h0M459.7 937.5h0M462.3 939.7h0M465.2 942.8h0M467.8 945.1h0M470.7 947.7h0M473.4 949.8h0M476.0 951.9h0M478.8 953.8h0M481.5 955.0h0M484.3 955.9h0M487.1 955.5h0M489.7 955.3h0M492.5 954.6h0M495.1 954.4h0M497.9 953.7h0M500.6 953.1h0M503.5 952.0h0M506.2 951.0h0M508.9 950.0h0M511.6 948.8h0M514.4 947.5h0M517.0 945.8h0M519.8 943.9h0M522.7 942.1h0M525.3 939.9h0M528.1 938.1h0M530.8 935.4h0M533.5 932.6h0M536.3 929.6h0M539.1 926.7h0M541.8 924.0h0M544.5 921.2h0M547.2 918.2h0M550.0 915.4h0M552.7 912.4h0M555.5 909.0h0M558.2 905.0h0M560.9 902.4h0M563.5 898.4h0M566.4 893.5h0M569.2 889.3h0M571.8 885.6h0M574.5 882.1h0M577.3 879.1h0M580.1 876.5h0M582.7 875.0h0M585.5 873.1h0M588.3 872.1h0M591.1 871.0h0M593.7 870.2h0M596.5 869.9h0M599.2 869.6h0M602.0 868.8h0M604.7 868.6h0M607.4 869.2h0M610.1 869.6h0M612.9 869.3h0M615.7 870.2h0M618.3 869.4h0M621.2 867.8h0M623.9 864.0h0M626.6 859.8h0M629.4 855.5h0M632.1 850.5h0M634.8 840.4h0M637.5 827.2h0M640.4 811.6h0M642.9 797.4h0M645.7 783.2h0M648.5 785.3h0M651.2 762.1h0M653.9 744.5h0M656.6 722.0h0M659.5 700.4h0M662.2 675.9h0M665.0 652.7h0M667.6 632.4h0M670.4 610.4h0M673.1 596.8h0M675.9 587.5h0M678.6 584.5h0M681.3 582.3h0M684.1 585.8h0M686.9 593.4h0M689.5 605.6h0M692.3 625.7h0M695.0 647.5h0M697.7 674.4h0M700.5 703.9h0M703.1 736.1h0M706.0 769.5h0M708.7 801.4h0M711.4 830.5h0M714.2 856.5h0M716.9 884.9h0M719.6 901.4h0M722.3 913.9h0M725.1 922.8h0M727.8 927.5h0M730.6 929.8h0M733.3 931.1h0M736.1 931.9h0M738.7 932.7h0M741.5 932.6h0M744.3 933.1h0M747.0 933.3h0M749.8 933.1h0M752.5 933.4h0M755.3 934.1h0M758.0 933.9h0M760.7 934.3h0M763.4 934.7h0M766.1 934.8h0M768.9 935.5h0M771.7 935.7h0M774.4 936.1h0M777.1 936.3h0M779.9 936.4h0M782.6 937.0h0"/>
<path stroke="#ff7f0e" d="M204.9 963.8h0M207.7 963.7h0M210.5 963.4h0M213.2 963.6h0M216.0 963.6h0M218.6 963.9h0M221.3 963.7h0M224.1 963.8h0M226.9 963.6h0M229.6 963.7h0M232.4 963.7h0M235.2 963.7h0M237.8 963.7h0M240.6 963.8h0M243.4 963.6h0M246.0 963.8h0M248.7 963.8h0M251.4 963.7h0M254.3 963.7h0M257.0 963.6h0M259.7 963.5h0M262.5 963.6h0M265.3 963.6h0M268.0 963.6h0M270.6 963.5h0M273.4 963.8h0M276.1 963.5h0M278.9 963.6h0M281.6 963.7h0M284.3 963.5h0M287.1 963.5h0M289.7 963.4h0M292.6 963.3h0M295.3 963.7h0M298.1 963.4h0M300.7 963.2h0M303.5 963.3h0M306.2 963.2h0M308.9 963.3h0M311.8 963.5h0M314.4 963.4h0M317.2 963.1h0M319.9 963.1h0M322.7 963.2h0M325.3 963.1h0M328.1 963.0h0M330.9 963.2h0M333.6 963.0h0M336.4 962.6h0M339.1 962.5h0M341.9 962.7h0M344.6 962.3h0M347.3 962.5h0M350.1 962.4h0M352.8 962.4h0M355.5 961.9h0M358.3 961.9h0M361.0 961.4h0M363.7 961.4h0M366.5 961.3h0M369.2 961.2h0M371.9 960.5h0M374.6 960.3h0M377.4 959.9h0M380.1 959.6h0M382.9 958.7h0M385.6 958.2h0M388.3 957.9h0M391.1 957.2h0M393.8 956.7h0M396.6 956.1h0M399.4 955.7h0M402.1 955.1h0M404.8 954.9h0M407.5 954.5h0M410.2 954.0h0M413.0 953.8h0M415.7 953.2h0M418.5 952.6h0M421.2 952.4h0M423.9 952.2h0M426.7 951.8h0M429.4 951.8h0M432.2 951.3h0M434.9 951.1h0M437.5 951.0h0M440.3 951.3h0M443.0 951.4h0M445.8 951.6h0M448.6 952.4h0M451.3 952.7h0M454.0 953.5h0M456.8 954.1h0M459.5 954.5h0M462.2 955.3h0M464.9 955.9h0M467.7 956.7h0M470.5 957.2h0M473.1 957.6h0M476.0 958.1h0M478.7 958.7h0M481.4 959.1h0M484.1 958.8h0M486.9 958.7h0M489.6 958.4h0M492.4 958.1h0M495.1 957.5h0M497.9 957.3h0M500.6 956.6h0M503.3 956.1h0M506.1 955.1h0M508.8 954.2h0M511.5 953.2h0M514.2 952.3h0M517.0 951.5h0M519.7 950.1h0M522.4 949.4h0M525.3 948.1h0M527.9 946.7h0M530.6 945.4h0M533.4 943.5h0M536.0 941.9h0M538.8 940.3h0M541.5 938.5h0M544.3 937.2h0M547.1 935.6h0M549.9 934.2h0M552.6 932.5h0M555.4 930.4h0M558.1 928.4h0M560.8 926.5h0M563.5 924.3h0M566.3 922.7h0M569.0 920.5h0M571.7 918.8h0M574.6 916.5h0M577.3 915.4h0M580.0 914.0h0M582.7 913.0h0M585.5 911.8h0M588.1 911.2h0M590.9 910.4h0M593.6 910.3h0M596.4 909.5h0M599.1 909.5h0M601.9 909.4h0M604.6 909.2h0M607.3 909.4h0M610.1 909.3h0M612.7 909.0h0M615.5 908.9h0M618.3 908.3h0M621.0 907.0h0M623.6 905.0h0M626.5 901.6h0M629.2 897.4h0M632.0 891.9h0M634.7 881.9h0M637.4 874.1h0M640.2 860.8h0M642.9 849.4h0M645.6 836.8h0M648.4 820.1h0M651.1 801.9h0M653.8 786.0h0M656.6 764.5h0M659.3 747.1h0M662.0 725.0h0M664.8 704.0h0M667.5 679.7h0M670.2 656.9h0M673.0 635.1h0M675.7 614.0h0M678.6 598.3h0M681.3 588.8h0M684.0 583.6h0M686.6 581.3h0M689.4 584.8h0M692.2 594.2h0M694.9 608.2h0M697.7 626.9h0M700.4 648.1h0M703.2 677.1h0M705.9 707.1h0M708.6 738.2h0M711.3 771.0h0M714.2 803.7h0M716.8 831.1h0M719.6 858.1h0M722.4 879.8h0M725.0 893.2h0M727.8 904.0h0M730.5 909.8h0M733.2 913.8h0M736.0 916.9h0M738.8 918.0h0M741.5 919.4h0M744.2 920.1h0M747.0 920.8h0M749.6 920.9h0M752.4 921.9h0M755.2 922.3h0M757.8 922.7h0M760.6 923.5h0M763.3 923.6h0M766.0 924.2h0M768.7 925.1h0M771.6 925.6h0M774.2 926.3h0M777.0 926.8h0M779.7 927.0h0M782.4 927.5h0"/>
</g>
<g fill="none" stroke-width="11.50" stroke-linecap="round">
<path stroke="#d62728" d="M204.0 1426.6h0M206.8 1426.5h0M209.5 1426.5h0M212.3 1426.5h0M214.9 1426.5h0M217.7 1426.4h0M220.5 1426.7h0M223.3 1426.6h0M225.9 1426.7h0M228.7 1426.6h0M231.5 1426.4h0M234.3 1426.5h0M236.8 1426.7h0M239.6 1426.6h0M242.4 1426.5h0M245.2 1426.6h0M247.8 1426.6h0M250.6 1426.5h0M253.3 1426.8h0M256.2 1426.5h0M258.8 1426.5h0M261.6 1426.5h0M264.3 1426.7h0M267.1 1426.6h0M269.8 1426.6h0M272.5 1426.5h0M275.3 1426.5h0M277.9 1426.5h0M280.7 1426.3h0M283.4 1426.3h0M286.1 1426.6h0M288.9 1426.6h0M291.6 1426.3h0M294.5 1426.5h0M297.2 1426.3h0M299.9 1426.3h0M302.6 1426.5h0M305.4 1426.5h0M308.0 1426.4h0M310.8 1426.5h0M313.7 1426.5h0M316.4 1426.4h0M319.2 1426.3h0M321.8 1426.4h0M324.5 1426.4h0M327.3 1426.4h0M330.1 1426.5h0M332.8 1426.1h0M335.5 1426.6h0M338.2 1426.4h0M341.0 1426.2h0M343.8 1426.4h0M346.5 1426.2h0M349.2 1426.1h0M351.9 1426.3h0M354.7 1426.2h0M357.5 1426.3h0M360.1 1426.1h0M362.9 1426.1h0M365.6 1426.1h0M368.3 1425.9h0M371.2 1426.0h0M373.9 1425.9h0M376.6 1426.0h0M379.3 1426.2h0M382.2 1426.0h0M384.8 1425.9h0M387.6 1426.1h0M390.4 1425.8h0M393.1 1425.9h0M395.9 1425.9h0M398.6 1426.0h0M401.3 1425.8h0M404.0 1425.8h0M406.8 1425.8h0M409.4 1425.7h0M412.2 1425.9h0M415.0 1425.3h0M417.6 1425.5h0M420.5 1425.5h0M423.2 1425.2h0M425.9 1425.0h0M428.7 1424.7h0M431.5 1424.7h0M434.2 1424.4h0M436.9 1424.4h0M439.6 1423.9h0M442.4 1423.9h0M445.2 1423.5h0M447.9 1423.5h0M450.6 1423.0h0M453.3 1422.7h0M456.1 1421.9h0M458.8 1421.3h0M461.6 1420.7h0M464.4 1419.2h0M467.0 1417.2h0M469.9 1414.9h0M472.6 1412.5h0M475.2 1410.4h0M478.0 1408.3h0M480.7 1406.1h0M483.5 1403.9h0M486.3 1401.8h0M488.9 1399.3h0M491.8 1396.1h0M494.4 1393.1h0M497.3 1389.7h0M500.0 1386.2h0M502.7 1382.6h0M505.4 1379.1h0M508.2 1375.4h0M510.9 1371.1h0M513.6 1367.1h0M516.4 1363.1h0M519.2 1358.6h0M522.0 1353.5h0M524.5 1349.2h0M527.3 1343.1h0M530.1 1337.2h0M532.7 1331.4h0M535.5 1324.2h0M538.4 1316.7h0M541.1 1308.9h0M543.7 1302.6h0M546.6 1294.3h0M549.3 1287.9h0M552.0 1281.2h0M554.8 1274.8h0M557.5 1267.3h0M560.2 1259.2h0M562.9 1250.4h0M565.7 1240.8h0M568.4 1231.6h0M571.3 1220.3h0M573.9 1209.6h0M576.5 1198.3h0M579.4 1185.6h0M582.1 1172.8h0M584.9 1160.4h0M587.6 1149.3h0M590.3 1135.1h0M593.2 1121.4h0M595.8 1110.2h0M598.6 1098.1h0M601.3 1086.9h0M604.0 1075.4h0M606.9 1064.8h0M609.4 1057.2h0M612.2 1049.0h0M615.0 1046.2h0M617.7 1044.9h0M620.5 1048.7h0M623.2 1057.1h0M625.9 1067.8h0M628.8 1083.5h0M631.4 1098.0h0M634.2 1117.2h0M636.9 1137.5h0M639.6 1160.4h0M642.4 1186.9h0M645.2 1208.1h0M647.9 1230.3h0M650.6 1255.1h0M653.4 1280.3h0M656.0 1302.1h0M658.8 1324.9h0M661.6 1343.2h0M664.3 1357.1h0M667.1 1369.5h0M669.8 1381.4h0M672.5 1389.6h0M675.4 1396.0h0M678.1 1400.0h0M680.8 1402.7h0M683.5 1403.6h0M686.3 1404.9h0M689.0 1405.4h0M691.8 1406.0h0M694.6 1406.3h0M697.2 1406.1h0M700.0 1406.0h0M702.7 1405.8h0M705.2 1405.3h0M708.1 1404.8h0M710.9 1404.1h0M713.7 1403.6h0M716.4 1402.8h0M719.2 1401.9h0M721.9 1401.7h0M724.6 1400.3h0M727.4 1399.7h0M730.2 1398.5h0M732.9 1397.7h0M735.5 1396.6h0M738.4 1395.3h0M741.0 1394.7h0M743.8 1393.2h0M746.5 1391.9h0M749.2 1390.8h0M752.1 1388.7h0M754.8 1386.9h0M757.6 1384.9h0M760.3 1382.7h0M762.9 1379.6h0M765.7 1377.6h0M768.5 1375.0h0M771.2 1372.1h0M774.1 1368.9h0M776.7 1366.0h0M779.4 1362.5h0M782.2 1358.8h0M784.9 1354.4h0M787.6 1350.5h0M790.4 1346.5h0M793.1 1342.2h0M795.9 1338.1h0M798.6 1334.1h0M801.3 1330.8h0M804.1 1327.6h0M806.9 1324.1h0M809.6 1320.7h0M812.1 1317.3h0M815.0 1314.8h0M817.7 1311.6h0M820.5 1308.8h0M823.3 1306.8h0M826.0 1304.3h0M828.8 1302.3h0M831.5 1300.7h0M834.2 1298.9h0M837.0 1297.7h0M839.7 1296.7h0M842.4 1296.6h0M845.3 1296.8h0M847.9 1297.0h0M850.5 1298.9h0M853.4 1299.9h0M856.1 1301.7h0M858.9 1304.5h0M861.7 1307.1h0M864.4 1310.2h0M867.1 1313.5h0M869.9 1317.1h0M872.6 1320.9h0M875.3 1323.6h0M878.1 1325.9h0M880.8 1328.1h0M883.5 1330.0h0M886.2 1332.1h0M889.0 1333.4h0M891.7 1334.7h0M894.4 1336.3h0M897.3 1338.0h0M900.0 1339.9h0M902.7 1340.8h0M905.4 1342.8h0M908.2 1344.0h0M910.9 1344.8h0M913.7 1346.6h0M916.4 1347.3h0M919.2 1348.7h0M921.9 1350.1h0M924.7 1352.0h0M927.3 1353.5h0M930.1 1356.2h0M932.9 1358.7h0M935.6 1361.6h0M938.3 1365.0h0M941.1 1368.0h0M943.8 1371.2h0M946.6 1374.8h0M949.2 1378.0h0M952.0 1381.3h0M954.7 1384.8h0M957.5 1388.5h0M960.3 1391.3h0M962.9 1393.7h0M965.8 1396.6h0M968.4 1398.7h0M971.1 1400.5h0M973.8 1402.7h0M976.8 1405.3h0M979.4 1407.0h0M982.1 1408.3h0M984.9 1409.7h0M987.6 1410.7h0M990.5 1411.8h0M993.1 1412.5h0M996.0 1413.8h0M998.6 1414.5h0M1001.2 1415.1h0M1004.1 1415.6h0M1006.8 1416.4h0M1009.6 1417.3h0M1012.4 1417.7h0M1015.0 1418.2h0M1017.9 1418.9h0M1020.5 1419.5h0M1023.2 1420.0h0M1026.0 1420.5h0M1028.7 1421.3h0M1031.6 1421.9h0M1034.3 1422.6h0M1037.0 1423.2h0M1039.7 1423.7h0M1042.5 1424.1h0M1045.2 1424.5h0M1048.0 1424.8h0M1050.7 1424.9h0M1053.4 1425.0h0M1056.1 1425.0h0M1058.9 1425.3h0M1061.7 1425.0h0M1064.3 1425.1h0M1067.1 1425.2h0M1069.8 1425.2h0M1072.6 1424.9h0M1075.3 1425.0h0M1078.1 1425.2h0M1080.9 1425.2h0M1083.6 1425.1h0M1086.2 1425.1h0M1089.0 1424.9h0M1091.8 1425.2h0M1094.5 1425.3h0M1097.3 1425.1h0M1100.0 1425.1h0M1102.8 1425.1h0M1105.5 1425.0h0M1108.2 1424.8h0M1110.9 1425.1h0M1113.7 1425.1h0M1116.5 1425.3h0M1119.2 1425.0h0M1121.9 1425.0h0M1124.7 1425.1h0M1127.4 1424.9h0M1130.0 1425.1h0M1132.8 1424.9h0M1135.6 1425.0h0M1138.3 1425.2h0M1141.1 1425.1h0M1143.8 1425.1h0M1146.5 1425.1h0M1149.3 1424.8h0M1152.1 1424.7h0M1154.7 1424.5h0M1157.5 1424.6h0M1160.2 1424.5h0M1163.1 1424.5h0M1165.7 1424.2h0M1168.5 1424.1h0M1171.2 1424.1h0M1174.0 1423.8h0M1176.7 1423.7h0M1179.5 1423.8h0M1182.2 1423.3h0M1185.0 1423.3h0M1187.7 1423.1h0M1190.4 1423.0h0M1193.2 1422.5h0M1195.9 1422.4h0M1198.7 1422.2h0M1201.3 1422.3h0M1204.2 1422.1h0M1206.9 1421.7h0M1209.6 1421.8h0M1212.5 1421.5h0M1215.1 1421.4h0M1217.8 1420.8h0"/>
<path stroke="#1f77b4" d="M202.2 1426.7h0M205.0 1426.6h0M207.7 1426.7h0M210.4 1426.6h0M213.1 1426.6h0M215.9 1426.6h0M218.6 1426.7h0M221.4 1426.8h0M224.1 1426.7h0M226.8 1426.6h0M229.7 1426.3h0M232.3 1426.5h0M235.1 1426.4h0M237.8 1426.5h0M240.4 1426.6h0M243.3 1426.7h0M246.0 1426.6h0M248.8 1426.8h0M251.4 1426.6h0M254.1 1426.4h0M257.0 1426.5h0M259.7 1426.4h0M262.5 1426.6h0M265.1 1426.7h0M268.0 1426.6h0M270.6 1426.6h0M273.4 1426.4h0M276.1 1426.3h0M278.9 1426.6h0M281.7 1426.5h0M284.4 1426.5h0M287.2 1426.5h0M289.9 1426.6h0M292.5 1426.5h0M295.3 1426.4h0M298.1 1426.4h0M300.8 1426.6h0M303.6 1426.4h0M306.2 1426.6h0M309.1 1426.3h0M311.8 1426.5h0M314.5 1426.4h0M317.2 1426.4h0M320.0 1426.4h0M322.7 1426.5h0M325.5 1426.5h0M328.2 1426.1h0M331.0 1426.3h0M333.7 1426.3h0M336.5 1426.0h0M339.1 1426.3h0M341.9 1426.2h0M344.7 1426.2h0M347.3 1426.1h0M350.2 1426.1h0M352.8 1426.1h0M355.6 1426.2h0M358.3 1426.1h0M361.1 1426.0h0M363.9 1426.3h0M366.6 1426.1h0M369.3 1426.1h0M372.2 1426.1h0M374.8 1426.3h0M377.5 1425.9h0M380.3 1426.1h0M383.1 1426.0h0M385.8 1426.0h0M388.6 1426.1h0M391.2 1425.9h0M394.0 1426.1h0M396.8 1425.9h0M399.5 1425.8h0M402.2 1425.7h0M404.8 1425.6h0M407.7 1425.5h0M410.5 1425.1h0M413.1 1425.2h0M415.9 1425.2h0M418.7 1424.9h0M421.4 1424.7h0M424.2 1424.4h0M426.8 1424.2h0M429.6 1423.9h0M432.4 1423.3h0M435.0 1423.1h0M437.8 1422.7h0M440.7 1422.2h0M443.4 1421.7h0M446.1 1420.9h0M448.6 1420.4h0M451.5 1419.6h0M454.3 1419.2h0M457.0 1417.9h0M459.7 1416.6h0M462.7 1415.0h0M465.2 1413.8h0M467.9 1412.1h0M470.7 1409.2h0M473.4 1406.6h0M476.2 1404.2h0M478.9 1401.5h0M481.7 1398.6h0M484.4 1395.9h0M487.1 1393.2h0M489.9 1390.4h0M492.6 1386.5h0M495.3 1383.8h0M498.2 1380.0h0M500.9 1376.6h0M503.5 1372.4h0M506.3 1368.5h0M509.2 1364.3h0M511.9 1360.4h0M514.5 1356.4h0M517.3 1352.0h0M520.0 1347.9h0M522.7 1342.4h0M525.5 1337.4h0M528.3 1333.4h0M531.0 1328.7h0M533.7 1322.4h0M536.5 1315.0h0M539.2 1309.3h0M542.0 1303.1h0M544.7 1296.2h0M547.4 1289.4h0M550.2 1282.4h0M552.8 1276.3h0M555.6 1270.3h0M558.5 1263.9h0M561.2 1257.2h0M563.9 1250.4h0M566.6 1242.2h0M569.3 1232.9h0M572.1 1222.7h0M574.9 1212.1h0M577.5 1201.1h0M580.3 1190.0h0M583.1 1177.6h0M585.8 1167.9h0M588.5 1156.4h0M591.3 1145.0h0M593.9 1132.6h0M596.8 1120.1h0M599.5 1109.7h0M602.2 1098.6h0M605.0 1089.0h0M607.8 1079.7h0M610.4 1070.7h0M613.3 1061.5h0M615.9 1055.4h0M618.7 1050.0h0M621.5 1047.9h0M624.0 1045.3h0M626.9 1044.2h0M629.6 1046.0h0M632.4 1055.5h0M635.0 1067.1h0M637.9 1077.5h0M640.5 1092.0h0M643.3 1109.0h0M646.0 1129.0h0M648.7 1152.3h0M651.6 1175.0h0M654.2 1196.9h0M657.0 1219.6h0M659.7 1242.0h0M662.5 1262.6h0M665.3 1282.9h0M668.0 1302.3h0M670.7 1318.8h0M673.4 1332.4h0M676.2 1344.8h0M679.0 1355.3h0M681.7 1364.2h0M684.4 1372.1h0M687.0 1378.7h0M690.0 1385.0h0M692.7 1389.8h0M695.4 1393.6h0M698.1 1395.6h0M700.8 1396.9h0M703.5 1397.4h0M706.3 1397.3h0M709.1 1396.8h0M711.8 1396.1h0M714.5 1396.0h0M717.3 1394.8h0M720.1 1393.6h0M722.8 1392.4h0M725.5 1391.4h0M728.1 1389.8h0M731.0 1388.7h0M733.7 1387.7h0M736.4 1386.3h0M739.1 1385.1h0M742.0 1383.8h0M744.7 1382.2h0M747.5 1380.8h0M750.2 1379.4h0M753.0 1377.6h0M755.6 1375.6h0M758.3 1373.8h0M761.1 1370.9h0M763.9 1368.8h0M766.7 1365.4h0M769.3 1362.6h0M772.1 1359.9h0M774.9 1356.4h0M777.6 1352.9h0M780.4 1349.6h0M783.1 1346.0h0M785.8 1341.8h0M788.6 1337.3h0M791.3 1334.2h0M794.0 1329.9h0M796.8 1326.5h0M799.5 1323.2h0M802.4 1320.0h0M805.0 1317.2h0M807.7 1314.0h0M810.4 1311.4h0M813.2 1309.1h0M816.0 1305.8h0M818.6 1304.1h0M821.3 1301.2h0M824.2 1298.9h0M826.8 1296.4h0M829.7 1294.2h0M832.4 1291.7h0M835.2 1289.8h0M837.9 1287.5h0M840.6 1285.9h0M843.3 1283.9h0M846.0 1283.5h0M848.8 1281.7h0M851.6 1280.9h0M854.2 1280.5h0M857.0 1280.9h0M859.8 1281.4h0M862.6 1283.1h0M865.2 1284.3h0M868.0 1285.4h0M870.7 1288.1h0M873.5 1289.5h0M876.1 1292.3h0M879.0 1295.3h0M881.8 1299.0h0M884.4 1302.3h0M887.2 1305.9h0M889.9 1309.0h0M892.7 1312.3h0M895.4 1314.9h0M898.2 1317.8h0M900.9 1320.4h0M903.6 1323.1h0M906.4 1325.6h0M909.1 1328.2h0M911.8 1329.8h0M914.6 1331.8h0M917.3 1334.2h0M920.0 1336.0h0M922.8 1338.1h0M925.5 1340.5h0M928.3 1342.4h0M931.0 1344.7h0M933.7 1347.2h0M936.5 1349.3h0M939.2 1352.0h0M942.0 1354.9h0M944.8 1358.7h0M947.4 1361.9h0M950.2 1365.5h0M952.8 1368.4h0M955.6 1371.7h0M958.4 1374.7h0M961.0 1377.8h0M963.8 1381.1h0M966.6 1384.3h0M969.4 1387.0h0M972.1 1389.3h0M974.8 1391.1h0M977.7 1393.7h0M980.3 1395.0h0M983.0 1396.5h0M985.9 1398.0h0M988.6 1399.6h0M991.3 1400.7h0M994.1 1401.9h0M996.8 1403.3h0M999.5 1404.7h0M1002.3 1405.6h0M1004.9 1406.8h0M1007.8 1407.6h0M1010.5 1408.8h0M1013.2 1409.3h0M1015.9 1410.5h0M1018.7 1411.6h0M1021.4 1412.5h0M1024.2 1413.6h0M1027.0 1414.4h0M1029.7 1415.1h0M1032.3 1416.1h0M1035.2 1416.7h0M1037.9 1417.7h0M1040.7 1418.1h0M1043.4 1418.3h0M1046.1 1419.2h0M1048.9 1419.3h0M1051.7 1419.7h0M1054.3 1420.4h0M1057.1 1420.7h0M1059.9 1420.9h0M1062.6 1421.1h0M1065.4 1421.6h0M1068.1 1421.9h0M1070.7 1422.1h0M1073.6 1422.5h0M1076.3 1422.8h0M1079.0 1423.1h0M1081.7 1423.1h0M1084.5 1423.5h0M1087.2 1423.3h0M1089.9 1423.6h0M1092.7 1423.6h0M1095.5 1423.5h0M1098.1 1423.5h0M1100.9 1423.8h0M1103.6 1423.5h0M1106.3 1423.7h0M1109.1 1423.6h0M1111.9 1423.4h0M1114.7 1423.6h0M1117.4 1423.5h0M1120.1 1423.6h0M1122.9 1423.3h0M1125.6 1423.5h0M1128.3 1423.7h0M1131.1 1423.7h0M1133.8 1423.6h0M1136.5 1423.4h0M1139.2 1423.4h0M1142.0 1423.2h0M1144.7 1423.1h0M1147.4 1423.0h0M1150.2 1422.7h0M1153.0 1422.6h0M1155.7 1422.3h0M1158.5 1422.0h0M1161.2 1421.8h0M1163.9 1421.7h0M1166.6 1421.6h0M1169.3 1421.3h0M1172.0 1420.9h0M1174.8 1421.0h0M1177.7 1420.5h0M1180.3 1420.2h0M1183.1 1420.1h0M1185.9 1419.9h0M1188.5 1419.3h0M1191.4 1419.1h0M1194.2 1419.1h0M1196.8 1418.6h0M1199.7 1418.3h0M1202.3 1418.4h0M1205.0 1417.6h0M1207.8 1417.8h0M1210.5 1417.4h0M1213.2 1417.2h0M1215.9 1416.8h0M1218.8 1416.6h0"/>
<path stroke="#2ca02c" d="M202.4 1426.7h0M205.2 1426.8h0M207.8 1426.6h0M210.6 1426.4h0M213.4 1426.7h0M216.0 1426.6h0M218.8 1426.7h0M221.5 1426.5h0M224.3 1426.5h0M227.0 1426.6h0M229.8 1426.8h0M232.5 1426.6h0M235.2 1426.4h0M237.9 1426.6h0M240.7 1426.5h0M243.4 1426.6h0M246.1 1426.8h0M248.9 1426.5h0M251.6 1426.5h0M254.4 1426.6h0M257.2 1426.6h0M259.9 1426.5h0M262.6 1426.6h0M265.4 1426.5h0M268.0 1426.6h0M270.7 1426.8h0M273.6 1426.5h0M276.2 1426.6h0M279.0 1426.6h0M281.7 1426.5h0M284.6 1426.5h0M287.2 1426.4h0M290.0 1426.3h0M292.7 1426.4h0M295.4 1426.6h0M298.2 1426.5h0M301.0 1426.3h0M303.8 1426.4h0M306.5 1426.5h0M309.3 1426.4h0M312.0 1426.3h0M314.7 1426.3h0M317.4 1426.3h0M320.2 1426.4h0M322.9 1426.4h0M325.6 1426.3h0M328.5 1426.3h0M331.0 1426.5h0M333.9 1426.3h0M336.6 1426.4h0M339.4 1426.1h0M342.0 1426.1h0M344.8 1426.0h0M347.5 1426.1h0M350.3 1426.2h0M353.0 1426.0h0M355.8 1426.2h0M358.5 1426.0h0M361.3 1426.2h0M364.0 1426.1h0M366.8 1426.0h0M369.5 1425.8h0M372.3 1426.0h0M375.0 1425.7h0M377.7 1425.7h0M380.4 1426.1h0M383.1 1425.9h0M385.9 1426.0h0M388.7 1425.9h0M391.4 1425.9h0M394.2 1425.8h0M396.9 1425.6h0M399.6 1425.5h0M402.3 1425.5h0M405.0 1425.4h0M407.8 1425.2h0M410.6 1425.0h0M413.2 1424.7h0M416.0 1424.6h0M418.8 1424.3h0M421.5 1424.3h0M424.2 1423.8h0M427.2 1423.3h0M429.8 1423.1h0M432.5 1422.8h0M435.3 1422.0h0M437.9 1421.6h0M440.8 1421.2h0M443.4 1420.1h0M446.1 1419.1h0M448.9 1418.0h0M451.6 1416.7h0M454.5 1415.1h0M457.1 1413.4h0M459.9 1411.6h0M462.7 1409.0h0M465.4 1405.9h0M468.2 1402.2h0M470.9 1398.7h0M473.7 1394.6h0M476.3 1390.9h0M479.1 1387.5h0M481.9 1383.8h0M484.5 1380.2h0M487.3 1376.9h0M490.0 1373.9h0M492.8 1371.2h0M495.5 1367.6h0M498.2 1364.8h0M500.9 1361.3h0M503.8 1358.3h0M506.4 1355.2h0M509.3 1351.8h0M512.1 1348.9h0M514.8 1345.3h0M517.4 1341.8h0M520.2 1338.3h0M523.0 1334.0h0M525.7 1330.5h0M528.4 1325.9h0M531.1 1321.6h0M533.9 1316.4h0M536.6 1310.8h0M539.4 1305.5h0M542.0 1300.2h0M544.8 1293.3h0M547.6 1284.8h0M550.3 1277.5h0M553.0 1270.2h0M555.8 1263.6h0M558.5 1256.0h0M561.4 1247.5h0M563.9 1239.3h0M566.8 1229.2h0M569.5 1219.3h0M572.2 1209.0h0M574.9 1197.0h0M577.8 1185.4h0M580.4 1174.7h0M583.2 1162.7h0M586.0 1152.1h0M588.7 1139.1h0M591.4 1127.8h0M594.1 1115.0h0M596.9 1104.6h0M599.7 1093.5h0M602.4 1084.5h0M605.0 1074.8h0M607.9 1065.4h0M610.6 1057.9h0M613.3 1050.5h0M616.2 1045.9h0M618.7 1045.1h0M621.7 1044.2h0M624.3 1047.6h0M627.1 1055.3h0M629.8 1063.1h0M632.4 1075.2h0M635.3 1086.3h0M638.0 1102.2h0M640.8 1119.0h0M643.5 1139.6h0M646.2 1158.8h0M649.0 1182.6h0M651.7 1203.6h0M654.4 1224.5h0M657.1 1245.6h0M659.9 1265.9h0M662.7 1286.3h0M665.4 1305.2h0M668.1 1320.6h0M670.8 1333.4h0M673.7 1345.9h0M676.3 1354.7h0M679.1 1362.7h0M681.8 1369.6h0M684.5 1376.2h0M687.3 1381.7h0M690.1 1386.5h0M692.9 1389.9h0M695.7 1392.0h0M698.3 1393.5h0M701.1 1393.8h0M703.8 1393.8h0M706.5 1393.2h0M709.2 1392.3h0M712.1 1391.8h0M714.7 1390.7h0M717.5 1390.1h0M720.2 1389.3h0M722.9 1388.1h0M725.6 1387.3h0M728.5 1386.2h0M731.2 1385.0h0M733.9 1383.6h0M736.6 1381.9h0M739.4 1381.3h0M742.0 1379.5h0M744.8 1378.0h0M747.7 1376.2h0M750.5 1374.7h0M753.1 1373.4h0M755.8 1370.9h0M758.6 1369.0h0M761.2 1366.5h0M764.0 1363.8h0M766.9 1360.5h0M769.6 1357.1h0M772.2 1353.6h0M774.9 1350.2h0M777.8 1346.8h0M780.5 1342.8h0M783.2 1339.1h0M786.0 1334.9h0M788.7 1330.9h0M791.3 1326.8h0M794.2 1323.0h0M796.9 1319.2h0M799.6 1315.5h0M802.3 1312.2h0M805.2 1308.8h0M807.8 1304.8h0M810.7 1302.0h0M813.3 1298.6h0M816.2 1295.9h0M818.8 1293.3h0M821.5 1292.3h0M824.2 1289.3h0M827.0 1288.5h0M829.8 1287.8h0M832.7 1286.6h0M835.2 1285.7h0M838.0 1286.5h0M840.8 1287.7h0M843.5 1288.3h0M846.2 1289.2h0M849.0 1291.8h0M851.6 1293.4h0M854.4 1295.8h0M857.2 1297.7h0M860.0 1301.2h0M862.7 1303.4h0M865.4 1307.0h0M868.2 1310.4h0M871.0 1313.2h0M873.7 1316.2h0M876.3 1319.2h0M879.1 1320.7h0M881.9 1322.7h0M884.6 1324.8h0M887.3 1326.3h0M890.1 1328.0h0M892.8 1329.7h0M895.6 1331.4h0M898.3 1332.9h0M901.0 1334.4h0M903.8 1336.2h0M906.5 1337.3h0M909.2 1339.0h0M912.0 1340.0h0M914.7 1341.5h0M917.5 1343.2h0M920.2 1344.2h0M923.0 1345.7h0M925.7 1347.7h0M928.5 1350.5h0M931.2 1352.3h0M933.9 1355.1h0M936.7 1358.1h0M939.4 1361.1h0M942.1 1364.4h0M945.0 1367.9h0M947.7 1371.7h0M950.5 1375.7h0M953.2 1379.4h0M955.9 1383.2h0M958.6 1386.5h0M961.3 1389.3h0M964.1 1392.6h0M966.8 1394.9h0M969.6 1397.3h0M972.3 1399.4h0M975.0 1401.3h0M977.7 1403.1h0M980.5 1405.0h0M983.3 1406.3h0M986.0 1407.1h0M988.7 1408.2h0M991.5 1409.1h0M994.2 1410.0h0M996.9 1410.7h0M999.6 1411.2h0M1002.5 1411.9h0M1005.2 1412.5h0M1007.9 1412.9h0M1010.5 1413.3h0M1013.4 1414.1h0M1016.2 1414.5h0M1018.8 1415.2h0M1021.6 1416.4h0M1024.4 1417.4h0M1027.0 1418.4h0M1029.8 1419.0h0M1032.6 1419.6h0M1035.3 1420.4h0M1038.0 1421.0h0M1040.8 1421.2h0M1043.5 1421.7h0M1046.2 1422.1h0M1049.0 1422.3h0M1051.7 1422.4h0M1054.4 1422.7h0M1057.2 1422.5h0M1060.0 1422.7h0M1062.8 1422.5h0M1065.5 1422.4h0M1068.1 1422.7h0M1071.0 1422.5h0M1073.7 1422.6h0M1076.4 1422.5h0M1079.2 1422.5h0M1081.9 1422.6h0M1084.7 1422.6h0M1087.3 1422.3h0M1090.1 1422.3h0M1092.8 1422.4h0M1095.6 1422.5h0M1098.4 1421.9h0M1101.1 1421.9h0M1103.7 1421.9h0M1106.5 1421.9h0M1109.3 1421.7h0M1111.9 1421.4h0M1114.8 1421.3h0M1117.5 1420.8h0M1120.2 1420.8h0M1123.0 1420.5h0M1125.8 1420.5h0M1128.5 1420.3h0M1131.2 1420.0h0M1134.0 1419.6h0M1136.6 1419.5h0M1139.4 1419.2h0M1142.1 1418.8h0M1145.0 1418.5h0M1147.6 1418.0h0M1150.4 1417.9h0M1153.1 1417.7h0M1155.8 1417.2h0M1158.6 1416.6h0M1161.3 1416.5h0M1164.1 1416.1h0M1166.8 1415.7h0M1169.6 1415.3h0M1172.3 1414.9h0M1175.0 1414.7h0M1177.7 1414.2h0M1180.6 1413.7h0M1183.2 1413.3h0M1186.0 1412.9h0M1188.8 1412.5h0M1191.5 1412.2h0M1194.3 1411.8h0M1196.8 1411.3h0M1199.7 1411.1h0M1202.3 1410.5h0M1205.2 1410.3h0M1207.9 1409.7h0M1210.6 1409.3h0M1213.4 1408.8h0M1216.2 1408.1h0M1218.8 1407.9h0"/>
<path stroke="#ff7f0e" d="M205.0 1426.5h0M207.7 1426.5h0M210.4 1426.7h0M213.3 1426.5h0M215.9 1426.7h0M218.7 1426.6h0M221.3 1426.9h0M224.1 1426.7h0M226.9 1426.5h0M229.6 1426.7h0M232.3 1426.6h0M235.1 1426.8h0M237.9 1426.4h0M240.6 1426.5h0M243.3 1426.6h0M246.1 1426.5h0M249.0 1426.6h0M251.6 1426.4h0M254.3 1426.6h0M257.1 1426.7h0M259.7 1426.6h0M262.5 1426.4h0M265.3 1426.5h0M268.0 1426.6h0M270.7 1426.5h0M273.4 1426.5h0M276.2 1426.5h0M279.0 1426.7h0M281.6 1426.6h0M284.4 1426.5h0M287.2 1426.6h0M289.9 1426.5h0M292.7 1426.3h0M295.3 1426.6h0M298.2 1426.5h0M300.8 1426.6h0M303.5 1426.6h0M306.3 1426.5h0M309.2 1426.7h0M311.8 1426.7h0M314.5 1426.3h0M317.3 1426.5h0M320.1 1426.3h0M322.9 1426.4h0M325.5 1426.4h0M328.2 1426.4h0M331.0 1426.4h0M333.8 1426.6h0M336.5 1426.3h0M339.3 1426.5h0M341.9 1426.4h0M344.7 1426.1h0M347.4 1426.4h0M350.2 1426.1h0M353.0 1426.3h0M355.7 1426.2h0M358.4 1426.2h0M361.2 1426.1h0M363.9 1426.2h0M366.8 1426.2h0M369.4 1426.0h0M372.2 1426.2h0M374.8 1426.0h0M377.6 1425.8h0M380.3 1425.9h0M383.0 1425.8h0M385.8 1425.8h0M388.5 1425.5h0M391.3 1425.5h0M394.0 1425.3h0M396.8 1425.2h0M399.5 1424.8h0M402.3 1424.9h0M405.1 1424.8h0M407.8 1424.4h0M410.5 1424.1h0M413.2 1423.8h0M416.0 1423.6h0M418.7 1422.6h0M421.4 1422.0h0M424.2 1421.1h0M427.0 1420.5h0M429.7 1419.3h0M432.4 1418.4h0M435.0 1417.1h0M437.9 1416.1h0M440.6 1415.0h0M443.4 1413.5h0M446.1 1412.3h0M448.8 1410.5h0M451.7 1408.6h0M454.3 1406.1h0M457.1 1403.2h0M459.8 1400.0h0M462.5 1396.9h0M465.3 1393.3h0M468.0 1389.2h0M470.7 1385.0h0M473.4 1380.9h0M476.1 1377.1h0M479.0 1373.7h0M481.7 1369.9h0M484.5 1366.1h0M487.1 1362.7h0M489.9 1358.8h0M492.7 1354.8h0M495.3 1351.0h0M498.1 1347.1h0M500.9 1342.6h0M503.6 1338.8h0M506.3 1335.2h0M509.1 1331.4h0M511.9 1327.7h0M514.7 1324.1h0M517.3 1320.7h0M520.1 1317.2h0M522.9 1313.4h0M525.6 1310.1h0M528.4 1306.2h0M530.9 1302.3h0M533.9 1297.7h0M536.5 1293.1h0M539.2 1286.5h0M542.0 1280.0h0M544.8 1271.1h0M547.5 1262.7h0M550.3 1253.6h0M553.0 1245.1h0M555.7 1236.1h0M558.4 1226.0h0M561.2 1215.5h0M563.9 1204.4h0M566.6 1192.5h0M569.4 1180.8h0M572.2 1169.7h0M574.9 1159.5h0M577.7 1148.2h0M580.5 1134.9h0M583.0 1123.4h0M585.8 1110.9h0M588.5 1099.8h0M591.2 1089.7h0M594.1 1080.4h0M596.7 1070.7h0M599.5 1061.8h0M602.3 1055.0h0M605.1 1048.7h0M607.7 1045.5h0M610.5 1044.4h0M613.3 1045.8h0M616.0 1050.0h0M618.7 1058.5h0M621.5 1068.4h0M624.1 1077.3h0M626.9 1091.4h0M629.6 1106.2h0M632.5 1125.4h0M635.2 1147.9h0M637.8 1167.6h0M640.7 1191.1h0M643.3 1210.5h0M646.2 1232.9h0M648.9 1253.8h0M651.5 1274.0h0M654.3 1293.6h0M657.1 1310.0h0M659.8 1323.8h0M662.5 1334.1h0M665.3 1341.5h0M668.0 1347.0h0M670.8 1350.9h0M673.5 1354.7h0M676.1 1357.0h0M679.0 1359.3h0M681.7 1360.8h0M684.3 1362.6h0M687.2 1363.3h0M689.9 1364.8h0M692.7 1365.0h0M695.4 1365.1h0M698.2 1364.4h0M701.0 1364.4h0M703.7 1363.8h0M706.5 1363.7h0M709.1 1362.9h0M711.8 1362.4h0M714.6 1361.4h0M717.4 1360.6h0M720.1 1359.5h0M722.8 1357.9h0M725.5 1357.1h0M728.3 1355.9h0M731.1 1354.6h0M733.7 1354.1h0M736.5 1352.6h0M739.3 1351.7h0M742.0 1350.6h0M744.8 1348.9h0M747.5 1347.4h0M750.1 1346.3h0M753.0 1345.0h0M755.7 1343.5h0M758.5 1342.1h0M761.3 1340.6h0M763.8 1339.1h0M766.7 1337.2h0M769.4 1335.0h0M772.2 1332.5h0M775.0 1330.2h0M777.6 1327.9h0M780.3 1324.9h0M783.1 1322.5h0M785.9 1319.3h0M788.5 1316.3h0M791.4 1312.3h0M794.1 1310.1h0M796.8 1306.3h0M799.4 1303.2h0M802.3 1300.0h0M805.1 1295.9h0M807.7 1292.8h0M810.5 1289.4h0M813.2 1286.7h0M816.0 1283.6h0M818.7 1281.8h0M821.5 1280.0h0M824.2 1278.5h0M826.9 1277.7h0M829.7 1276.5h0M832.5 1275.8h0M835.2 1276.3h0M838.0 1277.2h0M840.6 1278.6h0M843.5 1279.0h0M846.1 1280.6h0M848.9 1283.1h0M851.6 1285.5h0M854.4 1288.4h0M857.2 1292.5h0M859.8 1295.9h0M862.6 1300.6h0M865.3 1305.0h0M868.1 1309.8h0M870.7 1315.1h0M873.5 1320.0h0M876.3 1324.7h0M879.0 1330.0h0M881.7 1334.6h0M884.4 1339.5h0M887.3 1343.9h0M890.0 1347.5h0M892.8 1350.7h0M895.4 1353.1h0M898.1 1355.7h0M900.9 1357.7h0M903.6 1359.5h0M906.4 1360.9h0M909.1 1362.7h0M911.9 1364.9h0M914.6 1366.4h0M917.4 1368.4h0M920.2 1370.4h0M922.9 1372.2h0M925.5 1374.1h0M928.4 1376.7h0M931.0 1378.8h0M933.8 1381.4h0M936.5 1384.4h0M939.2 1387.5h0M942.1 1391.1h0M944.7 1394.4h0M947.5 1397.6h0M950.2 1400.4h0M953.0 1403.1h0M955.8 1405.8h0M958.4 1408.2h0M961.1 1410.0h0M964.0 1411.9h0M966.6 1413.4h0M969.4 1414.7h0M972.2 1416.1h0M974.9 1417.0h0M977.6 1417.8h0M980.3 1418.6h0M983.1 1418.9h0M985.8 1419.6h0M988.6 1420.5h0M991.4 1420.7h0M994.1 1421.3h0M996.8 1421.5h0M999.5 1422.0h0M1002.3 1422.4h0M1004.9 1422.7h0M1007.8 1423.0h0M1010.5 1423.3h0M1013.2 1423.6h0M1015.9 1423.8h0M1018.8 1423.9h0M1021.4 1424.2h0M1024.2 1424.2h0M1026.9 1424.4h0M1029.7 1424.5h0M1032.4 1424.5h0M1035.2 1424.8h0M1037.9 1424.8h0M1040.6 1425.0h0M1043.4 1424.9h0M1046.1 1425.0h0M1048.8 1425.0h0M1051.7 1425.0h0M1054.4 1425.2h0M1057.1 1425.0h0M1059.9 1425.1h0M1062.5 1425.0h0M1065.4 1425.0h0M1068.1 1424.8h0M1070.8 1424.8h0M1073.6 1424.6h0M1076.2 1424.7h0M1079.1 1424.7h0M1081.7 1424.6h0M1084.5 1424.4h0M1087.3 1424.2h0M1090.0 1424.3h0M1092.7 1424.3h0M1095.5 1424.1h0M1098.2 1424.1h0M1100.9 1424.0h0M1103.6 1424.0h0M1106.4 1424.1h0M1109.2 1423.8h0M1111.8 1423.6h0M1114.6 1423.6h0M1117.4 1423.8h0M1120.1 1423.4h0M1122.8 1423.5h0M1125.7 1423.0h0M1128.3 1423.1h0M1131.1 1423.2h0M1133.9 1422.9h0M1136.4 1422.9h0M1139.3 1422.7h0M1142.1 1422.7h0M1144.8 1422.7h0M1147.5 1422.4h0M1150.2 1422.5h0M1152.9 1422.1h0M1155.7 1422.1h0M1158.5 1422.1h0M1161.2 1422.1h0M1163.9 1421.6h0M1166.7 1421.5h0M1169.4 1421.7h0M1172.2 1421.3h0M1174.9 1421.3h0M1177.7 1421.2h0M1180.3 1421.1h0M1183.0 1421.0h0M1185.9 1420.7h0M1188.7 1420.7h0M1191.3 1420.8h0M1194.1 1420.2h0M1196.9 1420.2h0M1199.6 1420.3h0M1202.4 1420.1h0M1205.1 1420.0h0M1207.8 1419.8h0M1210.6 1419.6h0M1213.3 1419.5h0M1216.0 1419.4h0M1218.8 1419.3h0"/>
</g>
<g fill="none" stroke="#000" stroke-width="3.0" stroke-linecap="butt">
<rect x="151.6" y="98.8" width="1118.9" height="420.8"/>
<path d="M200.6 519.6v13.4M337.4 519.6v13.4M474.3 519.6v13.4M611.1 519.6v13.4M748.0 519.6v13.4M884.9 519.6v13.4M1021.7 519.6v13.4M1158.5 519.6v13.4M151.6 500.7h-13.4M151.6 405.1h-13.4M151.6 309.5h-13.4M151.6 213.9h-13.4M151.6 118.3h-13.4"/>
<rect x="151.6" y="561.8" width="1118.9" height="420.8"/>
<path d="M200.6 982.6v13.4M337.4 982.6v13.4M474.3 982.6v13.4M611.1 982.6v13.4M748.0 982.6v13.4M884.9 982.6v13.4M1021.7 982.6v13.4M1158.5 982.6v13.4M151.6 963.7h-13.4M151.6 868.1h-13.4M151.6 772.5h-13.4M151.6 676.9h-13.4M151.6 581.3h-13.4"/>
<rect x="151.6" y="1024.7" width="1118.9" height="420.8"/>
<path d="M200.6 1445.5v13.4M337.4 1445.5v13.4M474.3 1445.5v13.4M611.1 1445.5v13.4M748.0 1445.5v13.4M884.9 1445.5v13.4M1021.7 1445.5v13.4M1158.5 1445.5v13.4M151.6 1426.6h-13.4M151.6 1331.0h-13.4M151.6 1235.4h-13.4M151.6 1139.8h-13.4M151.6 1044.2h-13.4"/>
</g>
<g font-family="'Liberation Serif', serif" fill="#000" stroke="#000" stroke-width="0.55" stroke-linejoin="round">
<text x="124.8" y="514.3" font-size="39.5" text-anchor="end" textLength="66.8" lengthAdjust="spacingAndGlyphs">0.00</text>
<text x="124.8" y="418.7" font-size="39.5" text-anchor="end" textLength="66.8" lengthAdjust="spacingAndGlyphs">0.25</text>
<text x="124.8" y="323.1" font-size="39.5" text-anchor="end" textLength="66.8" lengthAdjust="spacingAndGlyphs">0.50</text>
<text x="124.8" y="227.5" font-size="39.5" text-anchor="end" textLength="66.8" lengthAdjust="spacingAndGlyphs">0.75</text>
<text x="124.8" y="131.9" font-size="39.5" text-anchor="end" textLength="66.8" lengthAdjust="spacingAndGlyphs">1.00</text>
<text x="124.8" y="977.3" font-size="39.5" text-anchor="end" textLength="66.8" lengthAdjust="spacingAndGlyphs">0.00</text>
<text x="124.8" y="881.7" font-size="39.5" text-anchor="end" textLength="66.8" lengthAdjust="spacingAndGlyphs">0.25</text>
<text x="124.8" y="786.1" font-size="39.5" text-anchor="end" textLength="66.8" lengthAdjust="spacingAndGlyphs">0.50</text>
<text x="124.8" y="690.5" font-size="39.5" text-anchor="end" textLength="66.8" lengthAdjust="spacingAndGlyphs">0.75</text>
<text x="124.8" y="594.9" font-size="39.5" text-anchor="end" textLength="66.8" lengthAdjust="spacingAndGlyphs">1.00</text>
<text x="124.8" y="1440.2" font-size="39.5" text-anchor="end" textLength="66.8" lengthAdjust="spacingAndGlyphs">0.00</text>
<text x="124.8" y="1344.6" font-size="39.5" text-anchor="end" textLength="66.8" lengthAdjust="spacingAndGlyphs">0.25</text>
<text x="124.8" y="1249.0" font-size="39.5" text-anchor="end" textLength="66.8" lengthAdjust="spacingAndGlyphs">0.50</text>
<text x="124.8" y="1153.4" font-size="39.5" text-anchor="end" textLength="66.8" lengthAdjust="spacingAndGlyphs">0.75</text>
<text x="124.8" y="1057.8" font-size="39.5" text-anchor="end" textLength="66.8" lengthAdjust="spacingAndGlyphs">1.00</text>
<text x="200.3" y="1498.3" font-size="39.5" text-anchor="middle" textLength="58.2" lengthAdjust="spacingAndGlyphs">300</text>
<text x="337.1" y="1498.3" font-size="39.5" text-anchor="middle" textLength="58.2" lengthAdjust="spacingAndGlyphs">350</text>
<text x="474.0" y="1498.3" font-size="39.5" text-anchor="middle" textLength="58.2" lengthAdjust="spacingAndGlyphs">400</text>
<text x="610.9" y="1498.3" font-size="39.5" text-anchor="middle" textLength="58.2" lengthAdjust="spacingAndGlyphs">450</text>
<text x="747.7" y="1498.3" font-size="39.5" text-anchor="middle" textLength="58.2" lengthAdjust="spacingAndGlyphs">500</text>
<text x="884.6" y="1498.3" font-size="39.5" text-anchor="middle" textLength="58.2" lengthAdjust="spacingAndGlyphs">550</text>
<text x="1021.4" y="1498.3" font-size="39.5" text-anchor="middle" textLength="58.2" lengthAdjust="spacingAndGlyphs">600</text>
<text x="1158.2" y="1498.3" font-size="39.5" text-anchor="middle" textLength="58.2" lengthAdjust="spacingAndGlyphs">650</text>
<text x="710.8" y="1552" font-size="38.2" text-anchor="middle" textLength="277" lengthAdjust="spacingAndGlyphs">Temperature (K)</text>
<text transform="translate(30 777.5) rotate(-90)" font-size="43.8" text-anchor="middle" textLength="318" lengthAdjust="spacingAndGlyphs">TL signal (norm.)</text>
<text x="710.7" y="24.9" font-size="35.2" text-anchor="middle" textLength="283.5" lengthAdjust="spacingAndGlyphs">Dose rate (kGy/s):</text>
<circle cx="413.0" cy="60.5" r="5.75" fill="#d62728" stroke="none"/>
<text x="475.0" y="71.3" font-size="30.8" text-anchor="middle" textLength="14.9" lengthAdjust="spacingAndGlyphs">1</text>
<circle cx="573.3" cy="60.5" r="5.75" fill="#1f77b4" stroke="none"/>
<text x="642.8" y="71.3" font-size="30.8" text-anchor="middle" textLength="31.7" lengthAdjust="spacingAndGlyphs">42</text>
<circle cx="748.9" cy="60.5" r="5.75" fill="#2ca02c" stroke="none"/>
<text x="825.9" y="71.3" font-size="30.8" text-anchor="middle" textLength="44.7" lengthAdjust="spacingAndGlyphs">195</text>
<circle cx="939.2" cy="60.5" r="5.75" fill="#ff7f0e" stroke="none"/>
<text x="1016.1" y="71.3" font-size="30.8" text-anchor="middle" textLength="46.5" lengthAdjust="spacingAndGlyphs">324</text>
<text x="990.8" y="204.8" font-size="35.2" text-anchor="middle" textLength="196" lengthAdjust="spacingAndGlyphs">(a) LiF:Mg,Ti</text>
<text x="991" y="667.3" font-size="35.2" text-anchor="middle" textLength="242.5" lengthAdjust="spacingAndGlyphs">(b) LiF:Mg,Cu,P</text>
<text x="899.8" y="1130.3" font-size="35.2" textLength="182.5" lengthAdjust="spacingAndGlyphs">(c) CaF<tspan font-size="24" dy="6">2</tspan><tspan dy="-6">:Tm</tspan></text>
</g>
</svg>
</body>
</html>
